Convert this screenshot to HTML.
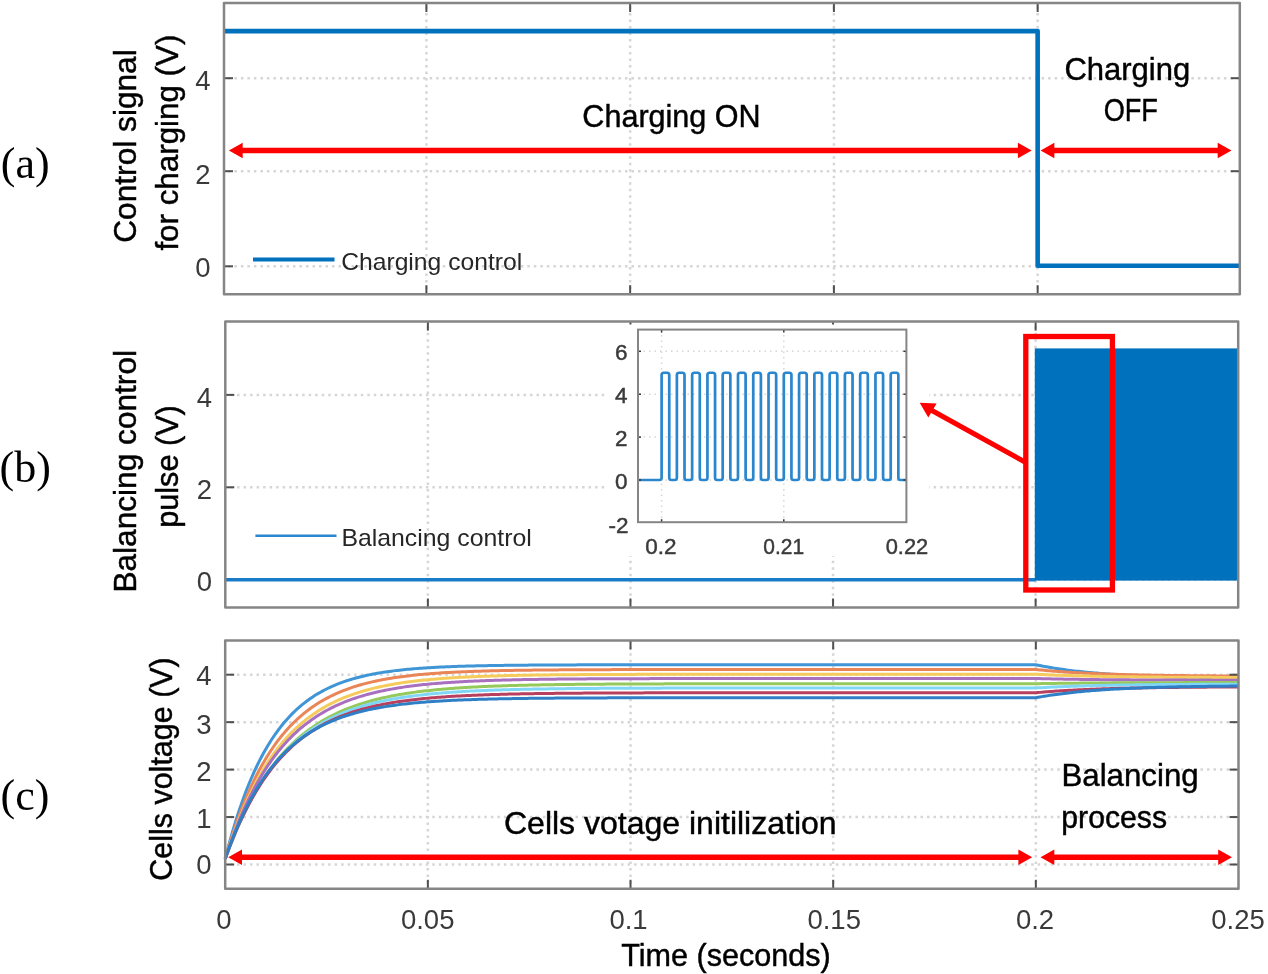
<!DOCTYPE html>
<html><head><meta charset="utf-8"><title>Charging and balancing control</title><style>html,body{margin:0;padding:0;background:#fff;overflow:hidden}svg{display:block}</style></head><body>
<svg width="1268" height="974" viewBox="0 0 1268 974">
<rect width="1268" height="974" fill="#fff"/>
<line x1="225" y1="266.3" x2="1238.8" y2="266.3" stroke="#d6d6d6" stroke-width="2.5" stroke-dasharray="2.5 4.01" stroke-dashoffset="3.65"/>
<line x1="225" y1="171.2" x2="1238.8" y2="171.2" stroke="#d6d6d6" stroke-width="2.5" stroke-dasharray="2.5 4.01" stroke-dashoffset="3.65"/>
<line x1="225" y1="78.2" x2="1238.8" y2="78.2" stroke="#d6d6d6" stroke-width="2.5" stroke-dasharray="2.5 4.01" stroke-dashoffset="3.65"/>
<line x1="426.4" y1="295.45" x2="426.4" y2="4" stroke="#d6d6d6" stroke-width="2.5" stroke-dasharray="2.5 4.01"/>
<line x1="630.15" y1="295.45" x2="630.15" y2="4" stroke="#d6d6d6" stroke-width="2.5" stroke-dasharray="2.5 4.01"/>
<line x1="833.9" y1="295.45" x2="833.9" y2="4" stroke="#d6d6d6" stroke-width="2.5" stroke-dasharray="2.5 4.01"/>
<line x1="1037.65" y1="295.45" x2="1037.65" y2="4" stroke="#d6d6d6" stroke-width="2.5" stroke-dasharray="2.5 4.01"/>
<polyline points="224,31.1 1037.65,31.1 1037.65,265.8 1239.8,265.8" fill="none" stroke="#0072bd" stroke-width="4.6" stroke-linejoin="round"/>
<line x1="224" y1="266.3" x2="233" y2="266.3" stroke="#505050" stroke-width="2"/>
<line x1="224" y1="171.2" x2="233" y2="171.2" stroke="#505050" stroke-width="2"/>
<line x1="1239.8" y1="171.2" x2="1230.8" y2="171.2" stroke="#505050" stroke-width="2"/>
<line x1="224" y1="78.2" x2="233" y2="78.2" stroke="#505050" stroke-width="2"/>
<line x1="1239.8" y1="78.2" x2="1230.8" y2="78.2" stroke="#505050" stroke-width="2"/>
<line x1="426.4" y1="3" x2="426.4" y2="12" stroke="#505050" stroke-width="2"/>
<line x1="426.4" y1="294.2" x2="426.4" y2="285.2" stroke="#505050" stroke-width="2"/>
<line x1="630.15" y1="3" x2="630.15" y2="12" stroke="#505050" stroke-width="2"/>
<line x1="630.15" y1="294.2" x2="630.15" y2="285.2" stroke="#505050" stroke-width="2"/>
<line x1="833.9" y1="3" x2="833.9" y2="12" stroke="#505050" stroke-width="2"/>
<line x1="833.9" y1="294.2" x2="833.9" y2="285.2" stroke="#505050" stroke-width="2"/>
<line x1="1037.65" y1="3" x2="1037.65" y2="12" stroke="#505050" stroke-width="2"/>
<line x1="1037.65" y1="294.2" x2="1037.65" y2="285.2" stroke="#505050" stroke-width="2"/>
<rect x="224" y="3" width="1015.8" height="291.2" fill="none" stroke="#858585" stroke-width="2.5" stroke-linejoin="round"/>
<line x1="253" y1="259.5" x2="334.5" y2="259.5" stroke="#0072bd" stroke-width="4.2"/>
<text x="341.2" y="270.3" font-family="'Liberation Sans', Arial, sans-serif" font-size="24" fill="#262626" text-anchor="start" textLength="181" lengthAdjust="spacingAndGlyphs">Charging control</text>
<text x="671.5" y="127.3" font-family="'Liberation Sans', Arial, sans-serif" font-size="32" fill="#000" text-anchor="middle" textLength="178.3" lengthAdjust="spacingAndGlyphs" stroke="#000" stroke-width="0.45">Charging ON</text>
<text x="1127.3" y="80.3" font-family="'Liberation Sans', Arial, sans-serif" font-size="32" fill="#000" text-anchor="middle" textLength="125.8" lengthAdjust="spacingAndGlyphs" stroke="#000" stroke-width="0.45">Charging</text>
<text x="1130.8" y="121.3" font-family="'Liberation Sans', Arial, sans-serif" font-size="32" fill="#000" text-anchor="middle" textLength="54.3" lengthAdjust="spacingAndGlyphs" stroke="#000" stroke-width="0.45">OFF</text>
<line x1="241.7" y1="150.6" x2="1018.9" y2="150.6" stroke="#ff0000" stroke-width="5.5"/>
<polygon points="228.9,150.6 242.7,142.85 242.7,158.35" fill="#ff0000"/>
<polygon points="1031.7,150.6 1017.9,142.85 1017.9,158.35" fill="#ff0000"/>
<line x1="1053.4" y1="150.6" x2="1218.7" y2="150.6" stroke="#ff0000" stroke-width="5.5"/>
<polygon points="1040.6,150.6 1054.4,142.85 1054.4,158.35" fill="#ff0000"/>
<polygon points="1231.5,150.6 1217.7,142.85 1217.7,158.35" fill="#ff0000"/>
<text x="210.5" y="90.3" font-family="'Liberation Sans', Arial, sans-serif" font-size="27.5" fill="#3a3a3a" text-anchor="end">4</text>
<text x="210.5" y="183.6" font-family="'Liberation Sans', Arial, sans-serif" font-size="27.5" fill="#3a3a3a" text-anchor="end">2</text>
<text x="210.5" y="277.4" font-family="'Liberation Sans', Arial, sans-serif" font-size="27.5" fill="#3a3a3a" text-anchor="end">0</text>
<line x1="226.3" y1="579.7" x2="1237.2" y2="579.7" stroke="#d6d6d6" stroke-width="2.5" stroke-dasharray="2.5 4.01" stroke-dashoffset="2.25"/>
<line x1="226.3" y1="487.3" x2="1237.2" y2="487.3" stroke="#d6d6d6" stroke-width="2.5" stroke-dasharray="2.5 4.01" stroke-dashoffset="2.25"/>
<line x1="226.3" y1="394.9" x2="1237.2" y2="394.9" stroke="#d6d6d6" stroke-width="2.5" stroke-dasharray="2.5 4.01" stroke-dashoffset="2.25"/>
<line x1="427.88" y1="608.75" x2="427.88" y2="322.6" stroke="#d6d6d6" stroke-width="2.5" stroke-dasharray="2.5 4.01"/>
<line x1="630.46" y1="608.75" x2="630.46" y2="322.6" stroke="#d6d6d6" stroke-width="2.5" stroke-dasharray="2.5 4.01"/>
<line x1="833.04" y1="608.75" x2="833.04" y2="322.6" stroke="#d6d6d6" stroke-width="2.5" stroke-dasharray="2.5 4.01"/>
<line x1="1035.62" y1="608.75" x2="1035.62" y2="322.6" stroke="#d6d6d6" stroke-width="2.5" stroke-dasharray="2.5 4.01"/>
<line x1="225.3" y1="579.7" x2="1035.62" y2="579.7" stroke="#1a7cc8" stroke-width="3.6"/>
<rect x="1034.8" y="348.4" width="203.4" height="232.2" fill="#0072bd"/>
<line x1="225.3" y1="487.3" x2="234.3" y2="487.3" stroke="#505050" stroke-width="2"/>
<line x1="225.3" y1="394.9" x2="234.3" y2="394.9" stroke="#505050" stroke-width="2"/>
<line x1="427.88" y1="321.6" x2="427.88" y2="330.6" stroke="#505050" stroke-width="2"/>
<line x1="427.88" y1="607.5" x2="427.88" y2="598.5" stroke="#505050" stroke-width="2"/>
<line x1="630.46" y1="321.6" x2="630.46" y2="330.6" stroke="#505050" stroke-width="2"/>
<line x1="630.46" y1="607.5" x2="630.46" y2="598.5" stroke="#505050" stroke-width="2"/>
<line x1="833.04" y1="321.6" x2="833.04" y2="330.6" stroke="#505050" stroke-width="2"/>
<line x1="833.04" y1="607.5" x2="833.04" y2="598.5" stroke="#505050" stroke-width="2"/>
<line x1="1035.62" y1="321.6" x2="1035.62" y2="330.6" stroke="#505050" stroke-width="2"/>
<line x1="1035.62" y1="607.5" x2="1035.62" y2="598.5" stroke="#505050" stroke-width="2"/>
<rect x="225.3" y="321.6" width="1012.9" height="285.9" fill="none" stroke="#858585" stroke-width="2.5" stroke-linejoin="round"/>
<line x1="255.4" y1="535.8" x2="336.5" y2="535.8" stroke="#2a86cf" stroke-width="2.6"/>
<text x="341.4" y="546.2" font-family="'Liberation Sans', Arial, sans-serif" font-size="24" fill="#262626" text-anchor="start" textLength="190.4" lengthAdjust="spacingAndGlyphs">Balancing control</text>
<text x="212" y="406.5" font-family="'Liberation Sans', Arial, sans-serif" font-size="27.5" fill="#3a3a3a" text-anchor="end">4</text>
<text x="212" y="499" font-family="'Liberation Sans', Arial, sans-serif" font-size="27.5" fill="#3a3a3a" text-anchor="end">2</text>
<text x="212" y="591" font-family="'Liberation Sans', Arial, sans-serif" font-size="27.5" fill="#3a3a3a" text-anchor="end">0</text>
<rect x="606" y="324.5" width="323" height="231.5" fill="#fff"/>
<line x1="638" y1="351.3" x2="906.4" y2="351.3" stroke="#d6d6d6" stroke-width="1.5" stroke-dasharray="1.5 4"/>
<line x1="638" y1="394.2" x2="906.4" y2="394.2" stroke="#d6d6d6" stroke-width="1.5" stroke-dasharray="1.5 4"/>
<line x1="638" y1="437.1" x2="906.4" y2="437.1" stroke="#d6d6d6" stroke-width="1.5" stroke-dasharray="1.5 4"/>
<line x1="638" y1="480" x2="906.4" y2="480" stroke="#d6d6d6" stroke-width="1.5" stroke-dasharray="1.5 4"/>
<line x1="661.6" y1="329.6" x2="661.6" y2="522.2" stroke="#d6d6d6" stroke-width="1.5" stroke-dasharray="1.5 4"/>
<line x1="783.8" y1="329.6" x2="783.8" y2="522.2" stroke="#d6d6d6" stroke-width="1.5" stroke-dasharray="1.5 4"/>
<path d="M638,480 L659.4,480 Q661.6,480 661.6,477.8 L661.6,374.95 Q661.6,372.75 663.8,372.75 L667.04,372.75 Q669.24,372.75 669.24,374.95 L669.24,477.8 Q669.24,480 671.44,480 L674.67,480 Q676.88,480 676.88,477.8 L676.88,477.8 L676.88,374.95 Q676.88,372.75 679.08,372.75 L682.31,372.75 Q684.51,372.75 684.51,374.95 L684.51,477.8 Q684.51,480 686.71,480 L689.95,480 Q692.15,480 692.15,477.8 L692.15,477.8 L692.15,374.95 Q692.15,372.75 694.35,372.75 L697.59,372.75 Q699.79,372.75 699.79,374.95 L699.79,477.8 Q699.79,480 701.99,480 L705.23,480 Q707.43,480 707.43,477.8 L707.43,477.8 L707.43,374.95 Q707.43,372.75 709.63,372.75 L712.86,372.75 Q715.06,372.75 715.06,374.95 L715.06,477.8 Q715.06,480 717.26,480 L720.5,480 Q722.7,480 722.7,477.8 L722.7,477.8 L722.7,374.95 Q722.7,372.75 724.9,372.75 L728.14,372.75 Q730.34,372.75 730.34,374.95 L730.34,477.8 Q730.34,480 732.54,480 L735.78,480 Q737.98,480 737.98,477.8 L737.98,477.8 L737.98,374.95 Q737.98,372.75 740.18,372.75 L743.41,372.75 Q745.61,372.75 745.61,374.95 L745.61,477.8 Q745.61,480 747.81,480 L751.05,480 Q753.25,480 753.25,477.8 L753.25,477.8 L753.25,374.95 Q753.25,372.75 755.45,372.75 L758.69,372.75 Q760.89,372.75 760.89,374.95 L760.89,477.8 Q760.89,480 763.09,480 L766.33,480 Q768.53,480 768.53,477.8 L768.53,477.8 L768.53,374.95 Q768.53,372.75 770.73,372.75 L773.96,372.75 Q776.16,372.75 776.16,374.95 L776.16,477.8 Q776.16,480 778.36,480 L781.6,480 Q783.8,480 783.8,477.8 L783.8,477.8 L783.8,374.95 Q783.8,372.75 786,372.75 L789.24,372.75 Q791.44,372.75 791.44,374.95 L791.44,477.8 Q791.44,480 793.64,480 L796.88,480 Q799.08,480 799.08,477.8 L799.08,477.8 L799.08,374.95 Q799.08,372.75 801.28,372.75 L804.51,372.75 Q806.71,372.75 806.71,374.95 L806.71,477.8 Q806.71,480 808.91,480 L812.15,480 Q814.35,480 814.35,477.8 L814.35,477.8 L814.35,374.95 Q814.35,372.75 816.55,372.75 L819.79,372.75 Q821.99,372.75 821.99,374.95 L821.99,477.8 Q821.99,480 824.19,480 L827.43,480 Q829.63,480 829.63,477.8 L829.63,477.8 L829.63,374.95 Q829.63,372.75 831.83,372.75 L835.06,372.75 Q837.26,372.75 837.26,374.95 L837.26,477.8 Q837.26,480 839.46,480 L842.7,480 Q844.9,480 844.9,477.8 L844.9,477.8 L844.9,374.95 Q844.9,372.75 847.1,372.75 L850.34,372.75 Q852.54,372.75 852.54,374.95 L852.54,477.8 Q852.54,480 854.74,480 L857.97,480 Q860.17,480 860.17,477.8 L860.17,477.8 L860.17,374.95 Q860.17,372.75 862.37,372.75 L865.61,372.75 Q867.81,372.75 867.81,374.95 L867.81,477.8 Q867.81,480 870.01,480 L873.25,480 Q875.45,480 875.45,477.8 L875.45,477.8 L875.45,374.95 Q875.45,372.75 877.65,372.75 L880.89,372.75 Q883.09,372.75 883.09,374.95 L883.09,477.8 Q883.09,480 885.29,480 L888.52,480 Q890.72,480 890.72,477.8 L890.72,477.8 L890.72,374.95 Q890.72,372.75 892.92,372.75 L896.16,372.75 Q898.36,372.75 898.36,374.95 L898.36,477.8 Q898.36,480 900.56,480 L906.4,480" fill="none" stroke="#2a86cd" stroke-width="2.7" stroke-linejoin="round"/>
<line x1="638" y1="351.3" x2="641" y2="351.3" stroke="#333" stroke-width="1.5"/>
<line x1="906.4" y1="351.3" x2="903.4" y2="351.3" stroke="#333" stroke-width="1.5"/>
<line x1="638" y1="394.2" x2="641" y2="394.2" stroke="#333" stroke-width="1.5"/>
<line x1="906.4" y1="394.2" x2="903.4" y2="394.2" stroke="#333" stroke-width="1.5"/>
<line x1="638" y1="437.1" x2="641" y2="437.1" stroke="#333" stroke-width="1.5"/>
<line x1="906.4" y1="437.1" x2="903.4" y2="437.1" stroke="#333" stroke-width="1.5"/>
<line x1="638" y1="480" x2="641" y2="480" stroke="#333" stroke-width="1.5"/>
<line x1="906.4" y1="480" x2="903.4" y2="480" stroke="#333" stroke-width="1.5"/>
<line x1="661.6" y1="329.6" x2="661.6" y2="332.6" stroke="#333" stroke-width="1.5"/>
<line x1="661.6" y1="522.2" x2="661.6" y2="519.2" stroke="#333" stroke-width="1.5"/>
<line x1="783.8" y1="329.6" x2="783.8" y2="332.6" stroke="#333" stroke-width="1.5"/>
<line x1="783.8" y1="522.2" x2="783.8" y2="519.2" stroke="#333" stroke-width="1.5"/>
<rect x="638" y="329.6" width="268.4" height="192.6" fill="none" stroke="#858585" stroke-width="2"/>
<text x="627.5" y="359.5" font-family="'Liberation Sans', Arial, sans-serif" font-size="22.5" fill="#3a3a3a" text-anchor="end" stroke="#3a3a3a" stroke-width="0.45">6</text>
<text x="627.5" y="402.6" font-family="'Liberation Sans', Arial, sans-serif" font-size="22.5" fill="#3a3a3a" text-anchor="end" stroke="#3a3a3a" stroke-width="0.45">4</text>
<text x="627.5" y="445.8" font-family="'Liberation Sans', Arial, sans-serif" font-size="22.5" fill="#3a3a3a" text-anchor="end" stroke="#3a3a3a" stroke-width="0.45">2</text>
<text x="627.5" y="489" font-family="'Liberation Sans', Arial, sans-serif" font-size="22.5" fill="#3a3a3a" text-anchor="end" stroke="#3a3a3a" stroke-width="0.45">0</text>
<text x="628.5" y="532.7" font-family="'Liberation Sans', Arial, sans-serif" font-size="22.5" fill="#3a3a3a" text-anchor="end" stroke="#3a3a3a" stroke-width="0.45">-2</text>
<text x="660.8" y="554.2" font-family="'Liberation Sans', Arial, sans-serif" font-size="22.5" fill="#3a3a3a" text-anchor="middle" stroke="#3a3a3a" stroke-width="0.45">0.2</text>
<text x="783.7" y="554.2" font-family="'Liberation Sans', Arial, sans-serif" font-size="22.5" fill="#3a3a3a" text-anchor="middle" textLength="40.8" lengthAdjust="spacingAndGlyphs" stroke="#3a3a3a" stroke-width="0.45">0.21</text>
<text x="907" y="554.2" font-family="'Liberation Sans', Arial, sans-serif" font-size="22.5" fill="#3a3a3a" text-anchor="middle" textLength="42.6" lengthAdjust="spacingAndGlyphs" stroke="#3a3a3a" stroke-width="0.45">0.22</text>
<rect x="1025.8" y="336.5" width="86.6" height="253.5" fill="none" stroke="#ff0000" stroke-width="5.3"/>
<line x1="1025" y1="462" x2="931" y2="410" stroke="#ff0000" stroke-width="5"/>
<polygon points="919.7,402.8 936.6,403.6 928.3,417.6" fill="#ff0000"/>
<line x1="226.2" y1="864.5" x2="1237.5" y2="864.5" stroke="#d6d6d6" stroke-width="2.5" stroke-dasharray="2.5 4.01" stroke-dashoffset="2.25"/>
<line x1="226.2" y1="817.05" x2="1237.5" y2="817.05" stroke="#d6d6d6" stroke-width="2.5" stroke-dasharray="2.5 4.01" stroke-dashoffset="2.25"/>
<line x1="226.2" y1="769.6" x2="1237.5" y2="769.6" stroke="#d6d6d6" stroke-width="2.5" stroke-dasharray="2.5 4.01" stroke-dashoffset="2.25"/>
<line x1="226.2" y1="722.15" x2="1237.5" y2="722.15" stroke="#d6d6d6" stroke-width="2.5" stroke-dasharray="2.5 4.01" stroke-dashoffset="2.25"/>
<line x1="226.2" y1="674.7" x2="1237.5" y2="674.7" stroke="#d6d6d6" stroke-width="2.5" stroke-dasharray="2.5 4.01" stroke-dashoffset="2.25"/>
<line x1="427.86" y1="890.05" x2="427.86" y2="641.5" stroke="#d6d6d6" stroke-width="2.5" stroke-dasharray="2.5 4.01"/>
<line x1="630.52" y1="890.05" x2="630.52" y2="641.5" stroke="#d6d6d6" stroke-width="2.5" stroke-dasharray="2.5 4.01"/>
<line x1="833.18" y1="890.05" x2="833.18" y2="641.5" stroke="#d6d6d6" stroke-width="2.5" stroke-dasharray="2.5 4.01"/>
<line x1="1035.84" y1="890.05" x2="1035.84" y2="641.5" stroke="#d6d6d6" stroke-width="2.5" stroke-dasharray="2.5 4.01"/>
<polyline points="225.2,858.81 227.23,850.9 229.25,843.31 231.28,836.04 233.31,829.06 235.33,822.36 237.36,815.94 239.39,809.78 241.41,803.87 243.44,798.2 245.47,792.76 247.49,787.54 249.52,782.54 251.55,777.74 253.57,773.13 255.6,768.72 257.63,764.48 259.65,760.41 261.68,756.52 263.71,752.78 265.73,749.19 267.76,745.75 269.79,742.45 271.81,739.28 273.84,736.24 275.87,733.33 277.89,730.53 279.92,727.85 281.94,725.28 283.97,722.81 286,720.45 288.02,718.18 290.05,716 292.08,713.91 294.1,711.91 296.13,709.98 298.16,708.14 300.18,706.37 302.21,704.68 304.24,703.05 306.26,701.49 308.29,699.99 310.32,698.55 312.34,697.17 314.37,695.85 316.4,694.58 318.42,693.37 320.45,692.2 322.48,691.08 324.5,690.01 326.53,688.98 328.56,687.99 330.58,687.04 332.61,686.13 334.64,685.26 336.66,684.43 338.69,683.62 340.72,682.85 342.74,682.12 344.77,681.41 346.8,680.73 348.82,680.08 350.85,679.45 352.88,678.85 354.9,678.28 356.93,677.72 358.96,677.2 360.98,676.69 363.01,676.2 365.04,675.73 367.06,675.29 369.09,674.86 371.12,674.44 373.14,674.05 375.17,673.67 377.19,673.3 379.22,672.96 381.25,672.62 383.27,672.3 385.3,671.99 387.33,671.7 389.35,671.41 391.38,671.14 393.41,670.88 395.43,670.63 397.46,670.39 399.49,670.16 401.51,669.94 403.54,669.72 405.57,669.52 407.59,669.33 409.62,669.14 411.65,668.96 413.67,668.79 415.7,668.62 417.73,668.46 419.75,668.31 421.78,668.17 423.81,668.03 425.83,667.89 427.86,667.76 429.89,667.64 431.91,667.52 433.94,667.41 435.97,667.3 437.99,667.2 440.02,667.1 442.05,667 444.07,666.91 446.1,666.82 448.13,666.73 450.15,666.65 452.18,666.57 454.21,666.5 456.23,666.43 458.26,666.36 460.29,666.29 462.31,666.23 464.34,666.17 466.37,666.11 468.39,666.05 470.42,666 472.45,665.95 474.47,665.9 476.5,665.85 478.52,665.81 480.55,665.76 482.58,665.72 484.6,665.68 486.63,665.64 488.66,665.6 490.68,665.57 492.71,665.54 494.74,665.5 496.76,665.47 498.79,665.44 500.82,665.41 502.84,665.39 504.87,665.36 506.9,665.33 508.92,665.31 510.95,665.29 512.98,665.26 515,665.24 517.03,665.22 519.06,665.2 521.08,665.18 523.11,665.16 525.14,665.15 527.16,665.13 529.19,665.11 531.22,665.1 533.24,665.08 535.27,665.07 537.3,665.06 539.32,665.04 541.35,665.03 543.38,665.02 545.4,665.01 547.43,665 549.46,664.99 551.48,664.97 553.51,664.97 555.54,664.96 557.56,664.95 559.59,664.94 561.62,664.93 563.64,664.92 565.67,664.91 567.7,664.91 569.72,664.9 571.75,664.89 573.78,664.89 575.8,664.88 577.83,664.87 579.86,664.87 581.88,664.86 583.91,664.86 585.93,664.85 587.96,664.85 589.99,664.84 592.01,664.84 594.04,664.84 596.07,664.83 598.09,664.83 600.12,664.82 602.15,664.82 604.17,664.82 606.2,664.81 608.23,664.81 610.25,664.81 612.28,664.8 614.31,664.8 616.33,664.8 618.36,664.8 620.39,664.79 622.41,664.79 624.44,664.79 626.47,664.79 628.49,664.78 630.52,664.78 632.55,664.78 634.57,664.78 636.6,664.78 638.63,664.78 640.65,664.77 642.68,664.77 644.71,664.77 646.73,664.77 648.76,664.77 650.79,664.77 652.81,664.77 654.84,664.76 656.87,664.76 658.89,664.76 660.92,664.76 662.95,664.76 664.97,664.76 667,664.76 669.03,664.76 671.05,664.76 673.08,664.76 675.11,664.75 677.13,664.75 679.16,664.75 681.18,664.75 683.21,664.75 685.24,664.75 687.26,664.75 689.29,664.75 691.32,664.75 693.34,664.75 695.37,664.75 697.4,664.75 699.42,664.75 701.45,664.75 703.48,664.75 705.5,664.75 707.53,664.75 709.56,664.74 711.58,664.74 713.61,664.74 715.64,664.74 717.66,664.74 719.69,664.74 721.72,664.74 723.74,664.74 725.77,664.74 727.8,664.74 729.82,664.74 731.85,664.74 733.88,664.74 735.9,664.74 737.93,664.74 739.96,664.74 741.98,664.74 744.01,664.74 746.04,664.74 748.06,664.74 750.09,664.74 752.12,664.74 754.14,664.74 756.17,664.74 758.2,664.74 760.22,664.74 762.25,664.74 764.28,664.74 766.3,664.74 768.33,664.74 770.36,664.74 772.38,664.74 774.41,664.74 776.44,664.74 778.46,664.74 780.49,664.74 782.52,664.74 784.54,664.74 786.57,664.74 788.59,664.74 790.62,664.74 792.65,664.74 794.67,664.74 796.7,664.74 798.73,664.74 800.75,664.74 802.78,664.74 804.81,664.74 806.83,664.74 808.86,664.74 810.89,664.74 812.91,664.74 814.94,664.74 816.97,664.74 818.99,664.74 821.02,664.74 823.05,664.74 825.07,664.74 827.1,664.74 829.13,664.74 831.15,664.74 833.18,664.74 835.21,664.74 837.23,664.74 839.26,664.74 841.29,664.74 843.31,664.74 845.34,664.74 847.37,664.74 849.39,664.74 851.42,664.74 853.45,664.74 855.47,664.74 857.5,664.74 859.53,664.74 861.55,664.74 863.58,664.74 865.61,664.74 867.63,664.74 869.66,664.74 871.69,664.74 873.71,664.74 875.74,664.74 877.77,664.74 879.79,664.74 881.82,664.74 883.85,664.74 885.87,664.74 887.9,664.74 889.92,664.74 891.95,664.74 893.98,664.74 896,664.74 898.03,664.74 900.06,664.74 902.08,664.74 904.11,664.74 906.14,664.74 908.16,664.74 910.19,664.74 912.22,664.74 914.24,664.74 916.27,664.74 918.3,664.74 920.32,664.74 922.35,664.74 924.38,664.74 926.4,664.74 928.43,664.74 930.46,664.74 932.48,664.74 934.51,664.74 936.54,664.74 938.56,664.74 940.59,664.74 942.62,664.74 944.64,664.74 946.67,664.74 948.7,664.74 950.72,664.74 952.75,664.74 954.78,664.74 956.8,664.74 958.83,664.74 960.86,664.74 962.88,664.74 964.91,664.74 966.94,664.74 968.96,664.74 970.99,664.74 973.02,664.74 975.04,664.74 977.07,664.74 979.1,664.74 981.12,664.74 983.15,664.74 985.17,664.74 987.2,664.74 989.23,664.74 991.25,664.74 993.28,664.74 995.31,664.74 997.33,664.74 999.36,664.74 1001.39,664.74 1003.41,664.74 1005.44,664.74 1007.47,664.74 1009.49,664.74 1011.52,664.74 1013.55,664.74 1015.57,664.74 1017.6,664.74 1019.63,664.74 1021.65,664.74 1023.68,664.74 1025.71,664.74 1027.73,664.74 1029.76,664.74 1031.79,664.74 1033.81,664.74 1035.84,664.74 1037.87,665.16 1039.89,665.57 1041.92,665.97 1043.95,666.35 1045.97,666.73 1048,667.09 1050.03,667.44 1052.05,667.78 1054.08,668.11 1056.11,668.43 1058.13,668.74 1060.16,669.04 1062.19,669.33 1064.21,669.61 1066.24,669.89 1068.27,670.15 1070.29,670.41 1072.32,670.66 1074.35,670.9 1076.37,671.13 1078.4,671.36 1080.43,671.58 1082.45,671.79 1084.48,672 1086.5,672.2 1088.53,672.39 1090.56,672.58 1092.58,672.76 1094.61,672.94 1096.64,673.11 1098.66,673.28 1100.69,673.44 1102.72,673.59 1104.74,673.74 1106.77,673.89 1108.8,674.03 1110.82,674.17 1112.85,674.3 1114.88,674.43 1116.9,674.56 1118.93,674.68 1120.96,674.8 1122.98,674.91 1125.01,675.02 1127.04,675.13 1129.06,675.23 1131.09,675.33 1133.12,675.43 1135.14,675.52 1137.17,675.61 1139.2,675.7 1141.22,675.79 1143.25,675.87 1145.28,675.95 1147.3,676.03 1149.33,676.11 1151.36,676.18 1153.38,676.25 1155.41,676.32 1157.44,676.39 1159.46,676.45 1161.49,676.52 1163.52,676.58 1165.54,676.64 1167.57,676.69 1169.6,676.75 1171.62,676.8 1173.65,676.86 1175.68,676.91 1177.7,676.96 1179.73,677 1181.76,677.05 1183.78,677.09 1185.81,677.14 1187.83,677.18 1189.86,677.22 1191.89,677.26 1193.91,677.3 1195.94,677.33 1197.97,677.37 1199.99,677.4 1202.02,677.44 1204.05,677.47 1206.07,677.5 1208.1,677.53 1210.13,677.56 1212.15,677.59 1214.18,677.62 1216.21,677.65 1218.23,677.67 1220.26,677.7 1222.29,677.72 1224.31,677.75 1226.34,677.77 1228.37,677.79 1230.39,677.81 1232.42,677.84 1234.45,677.86 1236.47,677.88 1238.5,677.9" fill="none" stroke="#3f95d6" stroke-width="3" stroke-linejoin="round"/>
<polyline points="225.2,858.81 227.23,851.82 229.25,845.09 231.28,838.61 233.31,832.37 235.33,826.36 237.36,820.57 239.39,814.99 241.41,809.62 243.44,804.45 245.47,799.47 247.49,794.67 249.52,790.05 251.55,785.6 253.57,781.32 255.6,777.19 257.63,773.21 259.65,769.39 261.68,765.7 263.71,762.15 265.73,758.73 267.76,755.43 269.79,752.26 271.81,749.21 273.84,746.26 275.87,743.43 277.89,740.7 279.92,738.07 281.94,735.54 283.97,733.1 286,730.76 288.02,728.49 290.05,726.32 292.08,724.22 294.1,722.2 296.13,720.25 298.16,718.38 300.18,716.57 302.21,714.84 304.24,713.16 306.26,711.55 308.29,710 310.32,708.5 312.34,707.06 314.37,705.68 316.4,704.34 318.42,703.05 320.45,701.81 322.48,700.62 324.5,699.47 326.53,698.37 328.56,697.3 330.58,696.27 332.61,695.28 334.64,694.33 336.66,693.41 338.69,692.53 340.72,691.68 342.74,690.86 344.77,690.07 346.8,689.31 348.82,688.58 350.85,687.88 352.88,687.2 354.9,686.54 356.93,685.91 358.96,685.31 360.98,684.72 363.01,684.16 365.04,683.62 367.06,683.1 369.09,682.59 371.12,682.11 373.14,681.64 375.17,681.2 377.19,680.76 379.22,680.35 381.25,679.95 383.27,679.56 385.3,679.19 387.33,678.83 389.35,678.48 391.38,678.15 393.41,677.83 395.43,677.52 397.46,677.23 399.49,676.94 401.51,676.67 403.54,676.4 405.57,676.14 407.59,675.9 409.62,675.66 411.65,675.43 413.67,675.21 415.7,675 417.73,674.8 419.75,674.6 421.78,674.41 423.81,674.23 425.83,674.06 427.86,673.89 429.89,673.72 431.91,673.57 433.94,673.42 435.97,673.27 437.99,673.13 440.02,673 442.05,672.87 444.07,672.74 446.1,672.62 448.13,672.51 450.15,672.39 452.18,672.29 454.21,672.18 456.23,672.08 458.26,671.99 460.29,671.9 462.31,671.81 464.34,671.72 466.37,671.64 468.39,671.56 470.42,671.48 472.45,671.41 474.47,671.34 476.5,671.27 478.52,671.2 480.55,671.14 482.58,671.08 484.6,671.02 486.63,670.96 488.66,670.91 490.68,670.85 492.71,670.8 494.74,670.75 496.76,670.71 498.79,670.66 500.82,670.62 502.84,670.58 504.87,670.54 506.9,670.5 508.92,670.46 510.95,670.42 512.98,670.39 515,670.36 517.03,670.32 519.06,670.29 521.08,670.26 523.11,670.23 525.14,670.21 527.16,670.18 529.19,670.15 531.22,670.13 533.24,670.1 535.27,670.08 537.3,670.06 539.32,670.04 541.35,670.02 543.38,670 545.4,669.98 547.43,669.96 549.46,669.94 551.48,669.93 553.51,669.91 555.54,669.89 557.56,669.88 559.59,669.86 561.62,669.85 563.64,669.84 565.67,669.82 567.7,669.81 569.72,669.8 571.75,669.79 573.78,669.77 575.8,669.76 577.83,669.75 579.86,669.74 581.88,669.73 583.91,669.72 585.93,669.72 587.96,669.71 589.99,669.7 592.01,669.69 594.04,669.68 596.07,669.67 598.09,669.67 600.12,669.66 602.15,669.65 604.17,669.65 606.2,669.64 608.23,669.64 610.25,669.63 612.28,669.62 614.31,669.62 616.33,669.61 618.36,669.61 620.39,669.6 622.41,669.6 624.44,669.6 626.47,669.59 628.49,669.59 630.52,669.58 632.55,669.58 634.57,669.58 636.6,669.57 638.63,669.57 640.65,669.57 642.68,669.56 644.71,669.56 646.73,669.56 648.76,669.55 650.79,669.55 652.81,669.55 654.84,669.55 656.87,669.54 658.89,669.54 660.92,669.54 662.95,669.54 664.97,669.53 667,669.53 669.03,669.53 671.05,669.53 673.08,669.53 675.11,669.53 677.13,669.52 679.16,669.52 681.18,669.52 683.21,669.52 685.24,669.52 687.26,669.52 689.29,669.51 691.32,669.51 693.34,669.51 695.37,669.51 697.4,669.51 699.42,669.51 701.45,669.51 703.48,669.51 705.5,669.51 707.53,669.51 709.56,669.5 711.58,669.5 713.61,669.5 715.64,669.5 717.66,669.5 719.69,669.5 721.72,669.5 723.74,669.5 725.77,669.5 727.8,669.5 729.82,669.5 731.85,669.5 733.88,669.5 735.9,669.5 737.93,669.49 739.96,669.49 741.98,669.49 744.01,669.49 746.04,669.49 748.06,669.49 750.09,669.49 752.12,669.49 754.14,669.49 756.17,669.49 758.2,669.49 760.22,669.49 762.25,669.49 764.28,669.49 766.3,669.49 768.33,669.49 770.36,669.49 772.38,669.49 774.41,669.49 776.44,669.49 778.46,669.49 780.49,669.49 782.52,669.49 784.54,669.49 786.57,669.49 788.59,669.49 790.62,669.49 792.65,669.49 794.67,669.49 796.7,669.49 798.73,669.49 800.75,669.48 802.78,669.48 804.81,669.48 806.83,669.48 808.86,669.48 810.89,669.48 812.91,669.48 814.94,669.48 816.97,669.48 818.99,669.48 821.02,669.48 823.05,669.48 825.07,669.48 827.1,669.48 829.13,669.48 831.15,669.48 833.18,669.48 835.21,669.48 837.23,669.48 839.26,669.48 841.29,669.48 843.31,669.48 845.34,669.48 847.37,669.48 849.39,669.48 851.42,669.48 853.45,669.48 855.47,669.48 857.5,669.48 859.53,669.48 861.55,669.48 863.58,669.48 865.61,669.48 867.63,669.48 869.66,669.48 871.69,669.48 873.71,669.48 875.74,669.48 877.77,669.48 879.79,669.48 881.82,669.48 883.85,669.48 885.87,669.48 887.9,669.48 889.92,669.48 891.95,669.48 893.98,669.48 896,669.48 898.03,669.48 900.06,669.48 902.08,669.48 904.11,669.48 906.14,669.48 908.16,669.48 910.19,669.48 912.22,669.48 914.24,669.48 916.27,669.48 918.3,669.48 920.32,669.48 922.35,669.48 924.38,669.48 926.4,669.48 928.43,669.48 930.46,669.48 932.48,669.48 934.51,669.48 936.54,669.48 938.56,669.48 940.59,669.48 942.62,669.48 944.64,669.48 946.67,669.48 948.7,669.48 950.72,669.48 952.75,669.48 954.78,669.48 956.8,669.48 958.83,669.48 960.86,669.48 962.88,669.48 964.91,669.48 966.94,669.48 968.96,669.48 970.99,669.48 973.02,669.48 975.04,669.48 977.07,669.48 979.1,669.48 981.12,669.48 983.15,669.48 985.17,669.48 987.2,669.48 989.23,669.48 991.25,669.48 993.28,669.48 995.31,669.48 997.33,669.48 999.36,669.48 1001.39,669.48 1003.41,669.48 1005.44,669.48 1007.47,669.48 1009.49,669.48 1011.52,669.48 1013.55,669.48 1015.57,669.48 1017.6,669.48 1019.63,669.48 1021.65,669.48 1023.68,669.48 1025.71,669.48 1027.73,669.48 1029.76,669.48 1031.79,669.48 1033.81,669.48 1035.84,669.48 1037.87,669.69 1039.89,669.89 1041.92,670.09 1043.95,670.28 1045.97,670.47 1048,670.65 1050.03,670.82 1052.05,670.99 1054.08,671.15 1056.11,671.31 1058.13,671.46 1060.16,671.61 1062.19,671.76 1064.21,671.9 1066.24,672.03 1068.27,672.16 1070.29,672.29 1072.32,672.41 1074.35,672.53 1076.37,672.65 1078.4,672.76 1080.43,672.87 1082.45,672.98 1084.48,673.08 1086.5,673.18 1088.53,673.27 1090.56,673.37 1092.58,673.46 1094.61,673.54 1096.64,673.63 1098.66,673.71 1100.69,673.79 1102.72,673.87 1104.74,673.94 1106.77,674.02 1108.8,674.09 1110.82,674.15 1112.85,674.22 1114.88,674.28 1116.9,674.35 1118.93,674.41 1120.96,674.46 1122.98,674.52 1125.01,674.58 1127.04,674.63 1129.06,674.68 1131.09,674.73 1133.12,674.78 1135.14,674.83 1137.17,674.87 1139.2,674.91 1141.22,674.96 1143.25,675 1145.28,675.04 1147.3,675.08 1149.33,675.11 1151.36,675.15 1153.38,675.19 1155.41,675.22 1157.44,675.25 1159.46,675.29 1161.49,675.32 1163.52,675.35 1165.54,675.38 1167.57,675.41 1169.6,675.43 1171.62,675.46 1173.65,675.49 1175.68,675.51 1177.7,675.53 1179.73,675.56 1181.76,675.58 1183.78,675.6 1185.81,675.62 1187.83,675.65 1189.86,675.67 1191.89,675.69 1193.91,675.7 1195.94,675.72 1197.97,675.74 1199.99,675.76 1202.02,675.77 1204.05,675.79 1206.07,675.81 1208.1,675.82 1210.13,675.84 1212.15,675.85 1214.18,675.86 1216.21,675.88 1218.23,675.89 1220.26,675.9 1222.29,675.92 1224.31,675.93 1226.34,675.94 1228.37,675.95 1230.39,675.96 1232.42,675.97 1234.45,675.98 1236.47,675.99 1238.5,676" fill="none" stroke="#ea8558" stroke-width="3" stroke-linejoin="round"/>
<polyline points="225.2,858.81 227.23,852.43 229.25,846.27 231.28,840.33 233.31,834.59 235.33,829.05 237.36,823.7 239.39,818.53 241.41,813.55 243.44,808.73 245.47,804.09 247.49,799.6 249.52,795.27 251.55,791.08 253.57,787.05 255.6,783.15 257.63,779.39 259.65,775.75 261.68,772.24 263.71,768.86 265.73,765.59 267.76,762.43 269.79,759.38 271.81,756.44 273.84,753.6 275.87,750.86 277.89,748.21 279.92,745.65 281.94,743.19 283.97,740.8 286,738.5 288.02,736.28 290.05,734.14 292.08,732.07 294.1,730.07 296.13,728.14 298.16,726.28 300.18,724.48 302.21,722.74 304.24,721.07 306.26,719.45 308.29,717.88 310.32,716.38 312.34,714.92 314.37,713.51 316.4,712.16 318.42,710.85 320.45,709.58 322.48,708.36 324.5,707.18 326.53,706.04 328.56,704.94 330.58,703.88 332.61,702.86 334.64,701.87 336.66,700.91 338.69,699.99 340.72,699.1 342.74,698.24 344.77,697.41 346.8,696.61 348.82,695.84 350.85,695.09 352.88,694.37 354.9,693.67 356.93,693 358.96,692.35 360.98,691.72 363.01,691.12 365.04,690.54 367.06,689.97 369.09,689.43 371.12,688.9 373.14,688.4 375.17,687.91 377.19,687.43 379.22,686.98 381.25,686.54 383.27,686.11 385.3,685.7 387.33,685.3 389.35,684.92 391.38,684.55 393.41,684.2 395.43,683.85 397.46,683.52 399.49,683.2 401.51,682.89 403.54,682.59 405.57,682.3 407.59,682.02 409.62,681.75 411.65,681.49 413.67,681.24 415.7,681 417.73,680.76 419.75,680.54 421.78,680.32 423.81,680.11 425.83,679.91 427.86,679.71 429.89,679.52 431.91,679.34 433.94,679.16 435.97,678.99 437.99,678.83 440.02,678.67 442.05,678.51 444.07,678.36 446.1,678.22 448.13,678.08 450.15,677.95 452.18,677.82 454.21,677.7 456.23,677.58 458.26,677.46 460.29,677.35 462.31,677.24 464.34,677.14 466.37,677.04 468.39,676.94 470.42,676.85 472.45,676.76 474.47,676.67 476.5,676.58 478.52,676.5 480.55,676.42 482.58,676.35 484.6,676.27 486.63,676.2 488.66,676.14 490.68,676.07 492.71,676.01 494.74,675.94 496.76,675.88 498.79,675.83 500.82,675.77 502.84,675.72 504.87,675.67 506.9,675.62 508.92,675.57 510.95,675.52 512.98,675.48 515,675.43 517.03,675.39 519.06,675.35 521.08,675.31 523.11,675.28 525.14,675.24 527.16,675.2 529.19,675.17 531.22,675.14 533.24,675.11 535.27,675.08 537.3,675.05 539.32,675.02 541.35,674.99 543.38,674.96 545.4,674.94 547.43,674.91 549.46,674.89 551.48,674.87 553.51,674.85 555.54,674.82 557.56,674.8 559.59,674.78 561.62,674.76 563.64,674.75 565.67,674.73 567.7,674.71 569.72,674.69 571.75,674.68 573.78,674.66 575.8,674.65 577.83,674.63 579.86,674.62 581.88,674.6 583.91,674.59 585.93,674.58 587.96,674.57 589.99,674.55 592.01,674.54 594.04,674.53 596.07,674.52 598.09,674.51 600.12,674.5 602.15,674.49 604.17,674.48 606.2,674.47 608.23,674.47 610.25,674.46 612.28,674.45 614.31,674.44 616.33,674.43 618.36,674.43 620.39,674.42 622.41,674.41 624.44,674.41 626.47,674.4 628.49,674.39 630.52,674.39 632.55,674.38 634.57,674.38 636.6,674.37 638.63,674.37 640.65,674.36 642.68,674.36 644.71,674.35 646.73,674.35 648.76,674.34 650.79,674.34 652.81,674.34 654.84,674.33 656.87,674.33 658.89,674.33 660.92,674.32 662.95,674.32 664.97,674.32 667,674.31 669.03,674.31 671.05,674.31 673.08,674.3 675.11,674.3 677.13,674.3 679.16,674.3 681.18,674.29 683.21,674.29 685.24,674.29 687.26,674.29 689.29,674.28 691.32,674.28 693.34,674.28 695.37,674.28 697.4,674.28 699.42,674.27 701.45,674.27 703.48,674.27 705.5,674.27 707.53,674.27 709.56,674.27 711.58,674.27 713.61,674.26 715.64,674.26 717.66,674.26 719.69,674.26 721.72,674.26 723.74,674.26 725.77,674.26 727.8,674.26 729.82,674.25 731.85,674.25 733.88,674.25 735.9,674.25 737.93,674.25 739.96,674.25 741.98,674.25 744.01,674.25 746.04,674.25 748.06,674.25 750.09,674.25 752.12,674.25 754.14,674.24 756.17,674.24 758.2,674.24 760.22,674.24 762.25,674.24 764.28,674.24 766.3,674.24 768.33,674.24 770.36,674.24 772.38,674.24 774.41,674.24 776.44,674.24 778.46,674.24 780.49,674.24 782.52,674.24 784.54,674.24 786.57,674.24 788.59,674.24 790.62,674.24 792.65,674.24 794.67,674.23 796.7,674.23 798.73,674.23 800.75,674.23 802.78,674.23 804.81,674.23 806.83,674.23 808.86,674.23 810.89,674.23 812.91,674.23 814.94,674.23 816.97,674.23 818.99,674.23 821.02,674.23 823.05,674.23 825.07,674.23 827.1,674.23 829.13,674.23 831.15,674.23 833.18,674.23 835.21,674.23 837.23,674.23 839.26,674.23 841.29,674.23 843.31,674.23 845.34,674.23 847.37,674.23 849.39,674.23 851.42,674.23 853.45,674.23 855.47,674.23 857.5,674.23 859.53,674.23 861.55,674.23 863.58,674.23 865.61,674.23 867.63,674.23 869.66,674.23 871.69,674.23 873.71,674.23 875.74,674.23 877.77,674.23 879.79,674.23 881.82,674.23 883.85,674.23 885.87,674.23 887.9,674.23 889.92,674.23 891.95,674.23 893.98,674.23 896,674.23 898.03,674.23 900.06,674.23 902.08,674.23 904.11,674.23 906.14,674.23 908.16,674.23 910.19,674.23 912.22,674.23 914.24,674.23 916.27,674.23 918.3,674.23 920.32,674.23 922.35,674.23 924.38,674.23 926.4,674.23 928.43,674.23 930.46,674.23 932.48,674.23 934.51,674.23 936.54,674.23 938.56,674.23 940.59,674.23 942.62,674.23 944.64,674.23 946.67,674.23 948.7,674.23 950.72,674.23 952.75,674.23 954.78,674.23 956.8,674.23 958.83,674.23 960.86,674.23 962.88,674.23 964.91,674.23 966.94,674.23 968.96,674.23 970.99,674.23 973.02,674.23 975.04,674.23 977.07,674.23 979.1,674.23 981.12,674.23 983.15,674.23 985.17,674.23 987.2,674.23 989.23,674.23 991.25,674.23 993.28,674.23 995.31,674.23 997.33,674.23 999.36,674.23 1001.39,674.23 1003.41,674.23 1005.44,674.23 1007.47,674.23 1009.49,674.23 1011.52,674.23 1013.55,674.23 1015.57,674.23 1017.6,674.23 1019.63,674.23 1021.65,674.23 1023.68,674.23 1025.71,674.23 1027.73,674.23 1029.76,674.23 1031.79,674.23 1033.81,674.23 1035.84,674.23 1037.87,674.33 1039.89,674.43 1041.92,674.53 1043.95,674.62 1045.97,674.71 1048,674.8 1050.03,674.89 1052.05,674.97 1054.08,675.05 1056.11,675.13 1058.13,675.21 1060.16,675.28 1062.19,675.35 1064.21,675.42 1066.24,675.49 1068.27,675.55 1070.29,675.62 1072.32,675.68 1074.35,675.74 1076.37,675.79 1078.4,675.85 1080.43,675.9 1082.45,675.96 1084.48,676.01 1086.5,676.06 1088.53,676.1 1090.56,676.15 1092.58,676.19 1094.61,676.24 1096.64,676.28 1098.66,676.32 1100.69,676.36 1102.72,676.4 1104.74,676.43 1106.77,676.47 1108.8,676.5 1110.82,676.54 1112.85,676.57 1114.88,676.6 1116.9,676.63 1118.93,676.66 1120.96,676.69 1122.98,676.72 1125.01,676.75 1127.04,676.77 1129.06,676.8 1131.09,676.82 1133.12,676.85 1135.14,676.87 1137.17,676.89 1139.2,676.91 1141.22,676.94 1143.25,676.96 1145.28,676.98 1147.3,677 1149.33,677.01 1151.36,677.03 1153.38,677.05 1155.41,677.07 1157.44,677.08 1159.46,677.1 1161.49,677.11 1163.52,677.13 1165.54,677.14 1167.57,677.16 1169.6,677.17 1171.62,677.18 1173.65,677.2 1175.68,677.21 1177.7,677.22 1179.73,677.23 1181.76,677.24 1183.78,677.26 1185.81,677.27 1187.83,677.28 1189.86,677.29 1191.89,677.3 1193.91,677.31 1195.94,677.31 1197.97,677.32 1199.99,677.33 1202.02,677.34 1204.05,677.35 1206.07,677.36 1208.1,677.36 1210.13,677.37 1212.15,677.38 1214.18,677.38 1216.21,677.39 1218.23,677.4 1220.26,677.4 1222.29,677.41 1224.31,677.42 1226.34,677.42 1228.37,677.43 1230.39,677.43 1232.42,677.44 1234.45,677.44 1236.47,677.45 1238.5,677.45" fill="none" stroke="#f5cb5c" stroke-width="3" stroke-linejoin="round"/>
<polyline points="225.2,858.81 227.23,852.68 229.25,846.77 231.28,841.05 233.31,835.53 235.33,830.2 237.36,825.05 239.39,820.07 241.41,815.27 243.44,810.62 245.47,806.14 247.49,801.8 249.52,797.61 251.55,793.57 253.57,789.66 255.6,785.89 257.63,782.24 259.65,778.72 261.68,775.31 263.71,772.03 265.73,768.85 267.76,765.78 269.79,762.82 271.81,759.96 273.84,757.19 275.87,754.52 277.89,751.94 279.92,749.44 281.94,747.03 283.97,744.71 286,742.46 288.02,740.29 290.05,738.19 292.08,736.16 294.1,734.2 296.13,732.31 298.16,730.48 300.18,728.72 302.21,727.01 304.24,725.37 306.26,723.77 308.29,722.24 310.32,720.75 312.34,719.32 314.37,717.93 316.4,716.59 318.42,715.3 320.45,714.05 322.48,712.84 324.5,711.67 326.53,710.55 328.56,709.46 330.58,708.41 332.61,707.39 334.64,706.41 336.66,705.46 338.69,704.55 340.72,703.66 342.74,702.81 344.77,701.98 346.8,701.19 348.82,700.41 350.85,699.67 352.88,698.95 354.9,698.26 356.93,697.59 358.96,696.94 360.98,696.31 363.01,695.71 365.04,695.12 367.06,694.56 369.09,694.01 371.12,693.49 373.14,692.98 375.17,692.48 377.19,692.01 379.22,691.55 381.25,691.11 383.27,690.68 385.3,690.27 387.33,689.87 389.35,689.48 391.38,689.11 393.41,688.75 395.43,688.4 397.46,688.06 399.49,687.74 401.51,687.42 403.54,687.12 405.57,686.83 407.59,686.54 409.62,686.27 411.65,686.01 413.67,685.75 415.7,685.51 417.73,685.27 419.75,685.04 421.78,684.82 423.81,684.6 425.83,684.39 427.86,684.19 429.89,684 431.91,683.81 433.94,683.63 435.97,683.46 437.99,683.29 440.02,683.13 442.05,682.97 444.07,682.82 446.1,682.67 448.13,682.53 450.15,682.39 452.18,682.26 454.21,682.13 456.23,682.01 458.26,681.89 460.29,681.77 462.31,681.66 464.34,681.56 466.37,681.45 468.39,681.35 470.42,681.25 472.45,681.16 474.47,681.07 476.5,680.98 478.52,680.9 480.55,680.82 482.58,680.74 484.6,680.66 486.63,680.59 488.66,680.52 490.68,680.45 492.71,680.38 494.74,680.32 496.76,680.26 498.79,680.2 500.82,680.14 502.84,680.08 504.87,680.03 506.9,679.98 508.92,679.93 510.95,679.88 512.98,679.83 515,679.79 517.03,679.74 519.06,679.7 521.08,679.66 523.11,679.62 525.14,679.58 527.16,679.54 529.19,679.51 531.22,679.47 533.24,679.44 535.27,679.41 537.3,679.38 539.32,679.35 541.35,679.32 543.38,679.29 545.4,679.26 547.43,679.24 549.46,679.21 551.48,679.19 553.51,679.17 555.54,679.14 557.56,679.12 559.59,679.1 561.62,679.08 563.64,679.06 565.67,679.04 567.7,679.02 569.72,679 571.75,678.99 573.78,678.97 575.8,678.95 577.83,678.94 579.86,678.92 581.88,678.91 583.91,678.89 585.93,678.88 587.96,678.87 589.99,678.86 592.01,678.84 594.04,678.83 596.07,678.82 598.09,678.81 600.12,678.8 602.15,678.79 604.17,678.78 606.2,678.77 608.23,678.76 610.25,678.75 612.28,678.74 614.31,678.73 616.33,678.73 618.36,678.72 620.39,678.71 622.41,678.7 624.44,678.7 626.47,678.69 628.49,678.68 630.52,678.68 632.55,678.67 634.57,678.66 636.6,678.66 638.63,678.65 640.65,678.65 642.68,678.64 644.71,678.64 646.73,678.63 648.76,678.63 650.79,678.62 652.81,678.62 654.84,678.61 656.87,678.61 658.89,678.61 660.92,678.6 662.95,678.6 664.97,678.6 667,678.59 669.03,678.59 671.05,678.59 673.08,678.58 675.11,678.58 677.13,678.58 679.16,678.57 681.18,678.57 683.21,678.57 685.24,678.57 687.26,678.56 689.29,678.56 691.32,678.56 693.34,678.56 695.37,678.56 697.4,678.55 699.42,678.55 701.45,678.55 703.48,678.55 705.5,678.55 707.53,678.54 709.56,678.54 711.58,678.54 713.61,678.54 715.64,678.54 717.66,678.54 719.69,678.54 721.72,678.53 723.74,678.53 725.77,678.53 727.8,678.53 729.82,678.53 731.85,678.53 733.88,678.53 735.9,678.53 737.93,678.52 739.96,678.52 741.98,678.52 744.01,678.52 746.04,678.52 748.06,678.52 750.09,678.52 752.12,678.52 754.14,678.52 756.17,678.52 758.2,678.52 760.22,678.52 762.25,678.52 764.28,678.51 766.3,678.51 768.33,678.51 770.36,678.51 772.38,678.51 774.41,678.51 776.44,678.51 778.46,678.51 780.49,678.51 782.52,678.51 784.54,678.51 786.57,678.51 788.59,678.51 790.62,678.51 792.65,678.51 794.67,678.51 796.7,678.51 798.73,678.51 800.75,678.51 802.78,678.51 804.81,678.51 806.83,678.5 808.86,678.5 810.89,678.5 812.91,678.5 814.94,678.5 816.97,678.5 818.99,678.5 821.02,678.5 823.05,678.5 825.07,678.5 827.1,678.5 829.13,678.5 831.15,678.5 833.18,678.5 835.21,678.5 837.23,678.5 839.26,678.5 841.29,678.5 843.31,678.5 845.34,678.5 847.37,678.5 849.39,678.5 851.42,678.5 853.45,678.5 855.47,678.5 857.5,678.5 859.53,678.5 861.55,678.5 863.58,678.5 865.61,678.5 867.63,678.5 869.66,678.5 871.69,678.5 873.71,678.5 875.74,678.5 877.77,678.5 879.79,678.5 881.82,678.5 883.85,678.5 885.87,678.5 887.9,678.5 889.92,678.5 891.95,678.5 893.98,678.5 896,678.5 898.03,678.5 900.06,678.5 902.08,678.5 904.11,678.5 906.14,678.5 908.16,678.5 910.19,678.5 912.22,678.5 914.24,678.5 916.27,678.5 918.3,678.5 920.32,678.5 922.35,678.5 924.38,678.5 926.4,678.5 928.43,678.5 930.46,678.5 932.48,678.5 934.51,678.5 936.54,678.5 938.56,678.5 940.59,678.5 942.62,678.5 944.64,678.5 946.67,678.5 948.7,678.5 950.72,678.5 952.75,678.5 954.78,678.5 956.8,678.5 958.83,678.5 960.86,678.5 962.88,678.5 964.91,678.5 966.94,678.5 968.96,678.5 970.99,678.5 973.02,678.5 975.04,678.5 977.07,678.5 979.1,678.5 981.12,678.5 983.15,678.5 985.17,678.5 987.2,678.5 989.23,678.5 991.25,678.5 993.28,678.5 995.31,678.5 997.33,678.5 999.36,678.5 1001.39,678.5 1003.41,678.5 1005.44,678.5 1007.47,678.5 1009.49,678.5 1011.52,678.5 1013.55,678.5 1015.57,678.5 1017.6,678.5 1019.63,678.5 1021.65,678.5 1023.68,678.5 1025.71,678.5 1027.73,678.5 1029.76,678.5 1031.79,678.5 1033.81,678.5 1035.84,678.5 1037.87,678.55 1039.89,678.61 1041.92,678.66 1043.95,678.71 1045.97,678.76 1048,678.8 1050.03,678.85 1052.05,678.9 1054.08,678.94 1056.11,678.98 1058.13,679.02 1060.16,679.06 1062.19,679.1 1064.21,679.14 1066.24,679.17 1068.27,679.21 1070.29,679.24 1072.32,679.27 1074.35,679.3 1076.37,679.33 1078.4,679.36 1080.43,679.39 1082.45,679.42 1084.48,679.45 1086.5,679.47 1088.53,679.5 1090.56,679.52 1092.58,679.55 1094.61,679.57 1096.64,679.59 1098.66,679.62 1100.69,679.64 1102.72,679.66 1104.74,679.68 1106.77,679.7 1108.8,679.71 1110.82,679.73 1112.85,679.75 1114.88,679.77 1116.9,679.78 1118.93,679.8 1120.96,679.81 1122.98,679.83 1125.01,679.84 1127.04,679.86 1129.06,679.87 1131.09,679.88 1133.12,679.9 1135.14,679.91 1137.17,679.92 1139.2,679.93 1141.22,679.94 1143.25,679.96 1145.28,679.97 1147.3,679.98 1149.33,679.99 1151.36,680 1153.38,680.01 1155.41,680.01 1157.44,680.02 1159.46,680.03 1161.49,680.04 1163.52,680.05 1165.54,680.06 1167.57,680.06 1169.6,680.07 1171.62,680.08 1173.65,680.08 1175.68,680.09 1177.7,680.1 1179.73,680.1 1181.76,680.11 1183.78,680.12 1185.81,680.12 1187.83,680.13 1189.86,680.13 1191.89,680.14 1193.91,680.14 1195.94,680.15 1197.97,680.15 1199.99,680.16 1202.02,680.16 1204.05,680.17 1206.07,680.17 1208.1,680.17 1210.13,680.18 1212.15,680.18 1214.18,680.18 1216.21,680.19 1218.23,680.19 1220.26,680.2 1222.29,680.2 1224.31,680.2 1226.34,680.2 1228.37,680.21 1230.39,680.21 1232.42,680.21 1234.45,680.22 1236.47,680.22 1238.5,680.22" fill="none" stroke="#a970c0" stroke-width="3" stroke-linejoin="round"/>
<polyline points="225.2,858.81 227.23,853.24 229.25,847.85 231.28,842.63 233.31,837.58 235.33,832.69 237.36,827.95 239.39,823.37 241.41,818.93 243.44,814.63 245.47,810.47 247.49,806.44 249.52,802.54 251.55,798.76 253.57,795.1 255.6,791.56 257.63,788.13 259.65,784.81 261.68,781.6 263.71,778.49 265.73,775.47 267.76,772.56 269.79,769.73 271.81,767 273.84,764.35 275.87,761.79 277.89,759.3 279.92,756.9 281.94,754.57 283.97,752.32 286,750.14 288.02,748.03 290.05,745.98 292.08,744 294.1,742.09 296.13,740.23 298.16,738.43 300.18,736.69 302.21,735.01 304.24,733.38 306.26,731.8 308.29,730.27 310.32,728.79 312.34,727.36 314.37,725.97 316.4,724.63 318.42,723.33 320.45,722.07 322.48,720.85 324.5,719.67 326.53,718.53 328.56,717.42 330.58,716.35 332.61,715.31 334.64,714.31 336.66,713.33 338.69,712.39 340.72,711.48 342.74,710.6 344.77,709.74 346.8,708.91 348.82,708.11 350.85,707.34 352.88,706.59 354.9,705.86 356.93,705.16 358.96,704.47 360.98,703.81 363.01,703.18 365.04,702.56 367.06,701.96 369.09,701.38 371.12,700.82 373.14,700.27 375.17,699.75 377.19,699.24 379.22,698.74 381.25,698.27 383.27,697.8 385.3,697.35 387.33,696.92 389.35,696.5 391.38,696.09 393.41,695.7 395.43,695.32 397.46,694.95 399.49,694.59 401.51,694.25 403.54,693.91 405.57,693.59 407.59,693.28 409.62,692.97 411.65,692.68 413.67,692.39 415.7,692.12 417.73,691.85 419.75,691.59 421.78,691.34 423.81,691.1 425.83,690.86 427.86,690.64 429.89,690.42 431.91,690.2 433.94,690 435.97,689.8 437.99,689.6 440.02,689.42 442.05,689.24 444.07,689.06 446.1,688.89 448.13,688.73 450.15,688.57 452.18,688.41 454.21,688.26 456.23,688.12 458.26,687.98 460.29,687.84 462.31,687.71 464.34,687.58 466.37,687.46 468.39,687.34 470.42,687.23 472.45,687.12 474.47,687.01 476.5,686.9 478.52,686.8 480.55,686.7 482.58,686.61 484.6,686.52 486.63,686.43 488.66,686.34 490.68,686.26 492.71,686.18 494.74,686.1 496.76,686.02 498.79,685.95 500.82,685.88 502.84,685.81 504.87,685.74 506.9,685.68 508.92,685.62 510.95,685.56 512.98,685.5 515,685.44 517.03,685.39 519.06,685.33 521.08,685.28 523.11,685.23 525.14,685.18 527.16,685.14 529.19,685.09 531.22,685.05 533.24,685.01 535.27,684.96 537.3,684.92 539.32,684.89 541.35,684.85 543.38,684.81 545.4,684.78 547.43,684.74 549.46,684.71 551.48,684.68 553.51,684.65 555.54,684.62 557.56,684.59 559.59,684.56 561.62,684.54 563.64,684.51 565.67,684.48 567.7,684.46 569.72,684.44 571.75,684.41 573.78,684.39 575.8,684.37 577.83,684.35 579.86,684.33 581.88,684.31 583.91,684.29 585.93,684.27 587.96,684.25 589.99,684.24 592.01,684.22 594.04,684.2 596.07,684.19 598.09,684.17 600.12,684.16 602.15,684.15 604.17,684.13 606.2,684.12 608.23,684.11 610.25,684.09 612.28,684.08 614.31,684.07 616.33,684.06 618.36,684.05 620.39,684.04 622.41,684.03 624.44,684.02 626.47,684.01 628.49,684 630.52,683.99 632.55,683.98 634.57,683.97 636.6,683.96 638.63,683.96 640.65,683.95 642.68,683.94 644.71,683.93 646.73,683.93 648.76,683.92 650.79,683.91 652.81,683.91 654.84,683.9 656.87,683.9 658.89,683.89 660.92,683.88 662.95,683.88 664.97,683.87 667,683.87 669.03,683.86 671.05,683.86 673.08,683.85 675.11,683.85 677.13,683.85 679.16,683.84 681.18,683.84 683.21,683.83 685.24,683.83 687.26,683.83 689.29,683.82 691.32,683.82 693.34,683.82 695.37,683.81 697.4,683.81 699.42,683.81 701.45,683.8 703.48,683.8 705.5,683.8 707.53,683.8 709.56,683.79 711.58,683.79 713.61,683.79 715.64,683.79 717.66,683.78 719.69,683.78 721.72,683.78 723.74,683.78 725.77,683.78 727.8,683.77 729.82,683.77 731.85,683.77 733.88,683.77 735.9,683.77 737.93,683.76 739.96,683.76 741.98,683.76 744.01,683.76 746.04,683.76 748.06,683.76 750.09,683.76 752.12,683.75 754.14,683.75 756.17,683.75 758.2,683.75 760.22,683.75 762.25,683.75 764.28,683.75 766.3,683.75 768.33,683.75 770.36,683.74 772.38,683.74 774.41,683.74 776.44,683.74 778.46,683.74 780.49,683.74 782.52,683.74 784.54,683.74 786.57,683.74 788.59,683.74 790.62,683.74 792.65,683.74 794.67,683.74 796.7,683.73 798.73,683.73 800.75,683.73 802.78,683.73 804.81,683.73 806.83,683.73 808.86,683.73 810.89,683.73 812.91,683.73 814.94,683.73 816.97,683.73 818.99,683.73 821.02,683.73 823.05,683.73 825.07,683.73 827.1,683.73 829.13,683.73 831.15,683.73 833.18,683.73 835.21,683.73 837.23,683.73 839.26,683.73 841.29,683.73 843.31,683.72 845.34,683.72 847.37,683.72 849.39,683.72 851.42,683.72 853.45,683.72 855.47,683.72 857.5,683.72 859.53,683.72 861.55,683.72 863.58,683.72 865.61,683.72 867.63,683.72 869.66,683.72 871.69,683.72 873.71,683.72 875.74,683.72 877.77,683.72 879.79,683.72 881.82,683.72 883.85,683.72 885.87,683.72 887.9,683.72 889.92,683.72 891.95,683.72 893.98,683.72 896,683.72 898.03,683.72 900.06,683.72 902.08,683.72 904.11,683.72 906.14,683.72 908.16,683.72 910.19,683.72 912.22,683.72 914.24,683.72 916.27,683.72 918.3,683.72 920.32,683.72 922.35,683.72 924.38,683.72 926.4,683.72 928.43,683.72 930.46,683.72 932.48,683.72 934.51,683.72 936.54,683.72 938.56,683.72 940.59,683.72 942.62,683.72 944.64,683.72 946.67,683.72 948.7,683.72 950.72,683.72 952.75,683.72 954.78,683.72 956.8,683.72 958.83,683.72 960.86,683.72 962.88,683.72 964.91,683.72 966.94,683.72 968.96,683.72 970.99,683.72 973.02,683.72 975.04,683.72 977.07,683.72 979.1,683.72 981.12,683.72 983.15,683.72 985.17,683.72 987.2,683.72 989.23,683.72 991.25,683.72 993.28,683.72 995.31,683.72 997.33,683.72 999.36,683.72 1001.39,683.72 1003.41,683.72 1005.44,683.72 1007.47,683.72 1009.49,683.72 1011.52,683.72 1013.55,683.72 1015.57,683.72 1017.6,683.72 1019.63,683.72 1021.65,683.72 1023.68,683.72 1025.71,683.72 1027.73,683.72 1029.76,683.72 1031.79,683.72 1033.81,683.72 1035.84,683.72 1037.87,683.68 1039.89,683.64 1041.92,683.61 1043.95,683.57 1045.97,683.54 1048,683.51 1050.03,683.48 1052.05,683.45 1054.08,683.42 1056.11,683.39 1058.13,683.36 1060.16,683.34 1062.19,683.31 1064.21,683.29 1066.24,683.26 1068.27,683.24 1070.29,683.21 1072.32,683.19 1074.35,683.17 1076.37,683.15 1078.4,683.13 1080.43,683.11 1082.45,683.09 1084.48,683.07 1086.5,683.06 1088.53,683.04 1090.56,683.02 1092.58,683.01 1094.61,682.99 1096.64,682.98 1098.66,682.96 1100.69,682.95 1102.72,682.93 1104.74,682.92 1106.77,682.91 1108.8,682.89 1110.82,682.88 1112.85,682.87 1114.88,682.86 1116.9,682.85 1118.93,682.84 1120.96,682.83 1122.98,682.82 1125.01,682.81 1127.04,682.8 1129.06,682.79 1131.09,682.78 1133.12,682.77 1135.14,682.76 1137.17,682.75 1139.2,682.75 1141.22,682.74 1143.25,682.73 1145.28,682.72 1147.3,682.72 1149.33,682.71 1151.36,682.7 1153.38,682.7 1155.41,682.69 1157.44,682.69 1159.46,682.68 1161.49,682.68 1163.52,682.67 1165.54,682.66 1167.57,682.66 1169.6,682.65 1171.62,682.65 1173.65,682.65 1175.68,682.64 1177.7,682.64 1179.73,682.63 1181.76,682.63 1183.78,682.62 1185.81,682.62 1187.83,682.62 1189.86,682.61 1191.89,682.61 1193.91,682.61 1195.94,682.6 1197.97,682.6 1199.99,682.6 1202.02,682.59 1204.05,682.59 1206.07,682.59 1208.1,682.59 1210.13,682.58 1212.15,682.58 1214.18,682.58 1216.21,682.58 1218.23,682.57 1220.26,682.57 1222.29,682.57 1224.31,682.57 1226.34,682.56 1228.37,682.56 1230.39,682.56 1232.42,682.56 1234.45,682.56 1236.47,682.56 1238.5,682.55" fill="none" stroke="#96c95c" stroke-width="3" stroke-linejoin="round"/>
<polyline points="225.2,858.81 227.23,853.25 229.25,847.87 231.28,842.67 233.31,837.64 235.33,832.77 237.36,828.06 239.39,823.51 241.41,819.1 243.44,814.83 245.47,810.71 247.49,806.72 249.52,802.85 251.55,799.12 253.57,795.5 255.6,792.01 257.63,788.62 259.65,785.35 261.68,782.18 263.71,779.12 265.73,776.15 267.76,773.29 269.79,770.51 271.81,767.83 273.84,765.23 275.87,762.72 277.89,760.29 279.92,757.93 281.94,755.66 283.97,753.46 286,751.33 288.02,749.27 290.05,747.27 292.08,745.35 294.1,743.48 296.13,741.67 298.16,739.93 300.18,738.24 302.21,736.6 304.24,735.02 306.26,733.49 308.29,732.01 310.32,730.58 312.34,729.19 314.37,727.85 316.4,726.56 318.42,725.3 320.45,724.09 322.48,722.91 324.5,721.78 326.53,720.68 328.56,719.62 330.58,718.59 332.61,717.59 334.64,716.63 336.66,715.7 338.69,714.8 340.72,713.92 342.74,713.08 344.77,712.26 346.8,711.47 348.82,710.71 350.85,709.97 352.88,709.26 354.9,708.56 356.93,707.89 358.96,707.25 360.98,706.62 363.01,706.01 365.04,705.43 367.06,704.86 369.09,704.31 371.12,703.78 373.14,703.27 375.17,702.77 377.19,702.29 379.22,701.82 381.25,701.37 383.27,700.94 385.3,700.52 387.33,700.11 389.35,699.71 391.38,699.33 393.41,698.96 395.43,698.61 397.46,698.26 399.49,697.93 401.51,697.6 403.54,697.29 405.57,696.99 407.59,696.7 409.62,696.41 411.65,696.14 413.67,695.87 415.7,695.62 417.73,695.37 419.75,695.13 421.78,694.9 423.81,694.67 425.83,694.45 427.86,694.24 429.89,694.04 431.91,693.84 433.94,693.65 435.97,693.47 437.99,693.29 440.02,693.12 442.05,692.95 444.07,692.79 446.1,692.63 448.13,692.48 450.15,692.34 452.18,692.19 454.21,692.06 456.23,691.92 458.26,691.8 460.29,691.67 462.31,691.55 464.34,691.44 466.37,691.32 468.39,691.22 470.42,691.11 472.45,691.01 474.47,690.91 476.5,690.82 478.52,690.72 480.55,690.63 482.58,690.55 484.6,690.46 486.63,690.38 488.66,690.31 490.68,690.23 492.71,690.16 494.74,690.09 496.76,690.02 498.79,689.95 500.82,689.89 502.84,689.83 504.87,689.77 506.9,689.71 508.92,689.65 510.95,689.6 512.98,689.55 515,689.5 517.03,689.45 519.06,689.4 521.08,689.35 523.11,689.31 525.14,689.27 527.16,689.22 529.19,689.18 531.22,689.14 533.24,689.11 535.27,689.07 537.3,689.04 539.32,689 541.35,688.97 543.38,688.94 545.4,688.91 547.43,688.88 549.46,688.85 551.48,688.82 553.51,688.79 555.54,688.77 557.56,688.74 559.59,688.72 561.62,688.69 563.64,688.67 565.67,688.65 567.7,688.62 569.72,688.6 571.75,688.58 573.78,688.56 575.8,688.55 577.83,688.53 579.86,688.51 581.88,688.49 583.91,688.48 585.93,688.46 587.96,688.45 589.99,688.43 592.01,688.42 594.04,688.4 596.07,688.39 598.09,688.38 600.12,688.36 602.15,688.35 604.17,688.34 606.2,688.33 608.23,688.32 610.25,688.31 612.28,688.29 614.31,688.28 616.33,688.27 618.36,688.27 620.39,688.26 622.41,688.25 624.44,688.24 626.47,688.23 628.49,688.22 630.52,688.22 632.55,688.21 634.57,688.2 636.6,688.19 638.63,688.19 640.65,688.18 642.68,688.17 644.71,688.17 646.73,688.16 648.76,688.16 650.79,688.15 652.81,688.15 654.84,688.14 656.87,688.14 658.89,688.13 660.92,688.13 662.95,688.12 664.97,688.12 667,688.11 669.03,688.11 671.05,688.1 673.08,688.1 675.11,688.1 677.13,688.09 679.16,688.09 681.18,688.09 683.21,688.08 685.24,688.08 687.26,688.08 689.29,688.07 691.32,688.07 693.34,688.07 695.37,688.07 697.4,688.06 699.42,688.06 701.45,688.06 703.48,688.06 705.5,688.05 707.53,688.05 709.56,688.05 711.58,688.05 713.61,688.05 715.64,688.04 717.66,688.04 719.69,688.04 721.72,688.04 723.74,688.04 725.77,688.03 727.8,688.03 729.82,688.03 731.85,688.03 733.88,688.03 735.9,688.03 737.93,688.03 739.96,688.02 741.98,688.02 744.01,688.02 746.04,688.02 748.06,688.02 750.09,688.02 752.12,688.02 754.14,688.02 756.17,688.02 758.2,688.01 760.22,688.01 762.25,688.01 764.28,688.01 766.3,688.01 768.33,688.01 770.36,688.01 772.38,688.01 774.41,688.01 776.44,688.01 778.46,688.01 780.49,688.01 782.52,688.01 784.54,688 786.57,688 788.59,688 790.62,688 792.65,688 794.67,688 796.7,688 798.73,688 800.75,688 802.78,688 804.81,688 806.83,688 808.86,688 810.89,688 812.91,688 814.94,688 816.97,688 818.99,688 821.02,688 823.05,688 825.07,688 827.1,688 829.13,687.99 831.15,687.99 833.18,687.99 835.21,687.99 837.23,687.99 839.26,687.99 841.29,687.99 843.31,687.99 845.34,687.99 847.37,687.99 849.39,687.99 851.42,687.99 853.45,687.99 855.47,687.99 857.5,687.99 859.53,687.99 861.55,687.99 863.58,687.99 865.61,687.99 867.63,687.99 869.66,687.99 871.69,687.99 873.71,687.99 875.74,687.99 877.77,687.99 879.79,687.99 881.82,687.99 883.85,687.99 885.87,687.99 887.9,687.99 889.92,687.99 891.95,687.99 893.98,687.99 896,687.99 898.03,687.99 900.06,687.99 902.08,687.99 904.11,687.99 906.14,687.99 908.16,687.99 910.19,687.99 912.22,687.99 914.24,687.99 916.27,687.99 918.3,687.99 920.32,687.99 922.35,687.99 924.38,687.99 926.4,687.99 928.43,687.99 930.46,687.99 932.48,687.99 934.51,687.99 936.54,687.99 938.56,687.99 940.59,687.99 942.62,687.99 944.64,687.99 946.67,687.99 948.7,687.99 950.72,687.99 952.75,687.99 954.78,687.99 956.8,687.99 958.83,687.99 960.86,687.99 962.88,687.99 964.91,687.99 966.94,687.99 968.96,687.99 970.99,687.99 973.02,687.99 975.04,687.99 977.07,687.99 979.1,687.99 981.12,687.99 983.15,687.99 985.17,687.99 987.2,687.99 989.23,687.99 991.25,687.99 993.28,687.99 995.31,687.99 997.33,687.99 999.36,687.99 1001.39,687.99 1003.41,687.99 1005.44,687.99 1007.47,687.99 1009.49,687.99 1011.52,687.99 1013.55,687.99 1015.57,687.99 1017.6,687.99 1019.63,687.99 1021.65,687.99 1023.68,687.99 1025.71,687.99 1027.73,687.99 1029.76,687.99 1031.79,687.99 1033.81,687.99 1035.84,687.99 1037.87,687.86 1039.89,687.74 1041.92,687.63 1043.95,687.52 1045.97,687.41 1048,687.3 1050.03,687.2 1052.05,687.1 1054.08,687.01 1056.11,686.92 1058.13,686.83 1060.16,686.74 1062.19,686.66 1064.21,686.57 1066.24,686.49 1068.27,686.42 1070.29,686.34 1072.32,686.27 1074.35,686.2 1076.37,686.13 1078.4,686.07 1080.43,686 1082.45,685.94 1084.48,685.88 1086.5,685.83 1088.53,685.77 1090.56,685.71 1092.58,685.66 1094.61,685.61 1096.64,685.56 1098.66,685.51 1100.69,685.47 1102.72,685.42 1104.74,685.38 1106.77,685.34 1108.8,685.29 1110.82,685.25 1112.85,685.22 1114.88,685.18 1116.9,685.14 1118.93,685.11 1120.96,685.07 1122.98,685.04 1125.01,685.01 1127.04,684.98 1129.06,684.95 1131.09,684.92 1133.12,684.89 1135.14,684.86 1137.17,684.84 1139.2,684.81 1141.22,684.78 1143.25,684.76 1145.28,684.74 1147.3,684.71 1149.33,684.69 1151.36,684.67 1153.38,684.65 1155.41,684.63 1157.44,684.61 1159.46,684.59 1161.49,684.57 1163.52,684.56 1165.54,684.54 1167.57,684.52 1169.6,684.51 1171.62,684.49 1173.65,684.48 1175.68,684.46 1177.7,684.45 1179.73,684.43 1181.76,684.42 1183.78,684.41 1185.81,684.39 1187.83,684.38 1189.86,684.37 1191.89,684.36 1193.91,684.35 1195.94,684.34 1197.97,684.33 1199.99,684.32 1202.02,684.31 1204.05,684.3 1206.07,684.29 1208.1,684.28 1210.13,684.27 1212.15,684.26 1214.18,684.25 1216.21,684.25 1218.23,684.24 1220.26,684.23 1222.29,684.22 1224.31,684.22 1226.34,684.21 1228.37,684.2 1230.39,684.2 1232.42,684.19 1234.45,684.19 1236.47,684.18 1238.5,684.18" fill="none" stroke="#7fd6f6" stroke-width="3" stroke-linejoin="round"/>
<polyline points="225.2,858.81 227.23,853.23 229.25,847.84 231.28,842.63 233.31,837.59 235.33,832.72 237.36,828.02 239.39,823.48 241.41,819.08 243.44,814.84 245.47,810.74 247.49,806.77 249.52,802.94 251.55,799.24 253.57,795.66 255.6,792.2 257.63,788.86 259.65,785.63 261.68,782.51 263.71,779.5 265.73,776.58 267.76,773.77 269.79,771.04 271.81,768.41 273.84,765.87 275.87,763.41 277.89,761.04 279.92,758.74 281.94,756.53 283.97,754.38 286,752.31 288.02,750.31 290.05,748.38 292.08,746.51 294.1,744.7 296.13,742.96 298.16,741.27 300.18,739.64 302.21,738.06 304.24,736.54 306.26,735.07 308.29,733.65 310.32,732.27 312.34,730.94 314.37,729.66 316.4,728.42 318.42,727.22 320.45,726.06 322.48,724.94 324.5,723.86 326.53,722.81 328.56,721.8 330.58,720.83 332.61,719.88 334.64,718.97 336.66,718.09 338.69,717.24 340.72,716.41 342.74,715.62 344.77,714.85 346.8,714.11 348.82,713.39 350.85,712.69 352.88,712.02 354.9,711.38 356.93,710.75 358.96,710.14 360.98,709.56 363.01,708.99 365.04,708.45 367.06,707.92 369.09,707.41 371.12,706.92 373.14,706.44 375.17,705.98 377.19,705.53 379.22,705.1 381.25,704.69 383.27,704.29 385.3,703.9 387.33,703.52 389.35,703.16 391.38,702.81 393.41,702.47 395.43,702.14 397.46,701.83 399.49,701.52 401.51,701.23 403.54,700.94 405.57,700.67 407.59,700.4 409.62,700.14 411.65,699.89 413.67,699.65 415.7,699.42 417.73,699.2 419.75,698.98 421.78,698.77 423.81,698.57 425.83,698.37 427.86,698.18 429.89,698 431.91,697.82 433.94,697.65 435.97,697.48 437.99,697.32 440.02,697.17 442.05,697.02 444.07,696.88 446.1,696.74 448.13,696.6 450.15,696.47 452.18,696.35 454.21,696.23 456.23,696.11 458.26,695.99 460.29,695.89 462.31,695.78 464.34,695.68 466.37,695.58 468.39,695.48 470.42,695.39 472.45,695.3 474.47,695.21 476.5,695.13 478.52,695.05 480.55,694.97 482.58,694.9 484.6,694.82 486.63,694.75 488.66,694.69 490.68,694.62 492.71,694.56 494.74,694.5 496.76,694.44 498.79,694.38 500.82,694.32 502.84,694.27 504.87,694.22 506.9,694.17 508.92,694.12 510.95,694.07 512.98,694.03 515,693.98 517.03,693.94 519.06,693.9 521.08,693.86 523.11,693.82 525.14,693.79 527.16,693.75 529.19,693.72 531.22,693.68 533.24,693.65 535.27,693.62 537.3,693.59 539.32,693.56 541.35,693.54 543.38,693.51 545.4,693.48 547.43,693.46 549.46,693.43 551.48,693.41 553.51,693.39 555.54,693.36 557.56,693.34 559.59,693.32 561.62,693.3 563.64,693.28 565.67,693.26 567.7,693.25 569.72,693.23 571.75,693.21 573.78,693.2 575.8,693.18 577.83,693.17 579.86,693.15 581.88,693.14 583.91,693.12 585.93,693.11 587.96,693.1 589.99,693.09 592.01,693.07 594.04,693.06 596.07,693.05 598.09,693.04 600.12,693.03 602.15,693.02 604.17,693.01 606.2,693 608.23,692.99 610.25,692.98 612.28,692.97 614.31,692.97 616.33,692.96 618.36,692.95 620.39,692.94 622.41,692.94 624.44,692.93 626.47,692.92 628.49,692.92 630.52,692.91 632.55,692.9 634.57,692.9 636.6,692.89 638.63,692.89 640.65,692.88 642.68,692.88 644.71,692.87 646.73,692.87 648.76,692.86 650.79,692.86 652.81,692.85 654.84,692.85 656.87,692.85 658.89,692.84 660.92,692.84 662.95,692.83 664.97,692.83 667,692.83 669.03,692.82 671.05,692.82 673.08,692.82 675.11,692.82 677.13,692.81 679.16,692.81 681.18,692.81 683.21,692.8 685.24,692.8 687.26,692.8 689.29,692.8 691.32,692.8 693.34,692.79 695.37,692.79 697.4,692.79 699.42,692.79 701.45,692.79 703.48,692.78 705.5,692.78 707.53,692.78 709.56,692.78 711.58,692.78 713.61,692.78 715.64,692.77 717.66,692.77 719.69,692.77 721.72,692.77 723.74,692.77 725.77,692.77 727.8,692.77 729.82,692.76 731.85,692.76 733.88,692.76 735.9,692.76 737.93,692.76 739.96,692.76 741.98,692.76 744.01,692.76 746.04,692.76 748.06,692.76 750.09,692.75 752.12,692.75 754.14,692.75 756.17,692.75 758.2,692.75 760.22,692.75 762.25,692.75 764.28,692.75 766.3,692.75 768.33,692.75 770.36,692.75 772.38,692.75 774.41,692.75 776.44,692.75 778.46,692.75 780.49,692.75 782.52,692.74 784.54,692.74 786.57,692.74 788.59,692.74 790.62,692.74 792.65,692.74 794.67,692.74 796.7,692.74 798.73,692.74 800.75,692.74 802.78,692.74 804.81,692.74 806.83,692.74 808.86,692.74 810.89,692.74 812.91,692.74 814.94,692.74 816.97,692.74 818.99,692.74 821.02,692.74 823.05,692.74 825.07,692.74 827.1,692.74 829.13,692.74 831.15,692.74 833.18,692.74 835.21,692.74 837.23,692.74 839.26,692.74 841.29,692.74 843.31,692.74 845.34,692.74 847.37,692.74 849.39,692.74 851.42,692.74 853.45,692.74 855.47,692.74 857.5,692.73 859.53,692.73 861.55,692.73 863.58,692.73 865.61,692.73 867.63,692.73 869.66,692.73 871.69,692.73 873.71,692.73 875.74,692.73 877.77,692.73 879.79,692.73 881.82,692.73 883.85,692.73 885.87,692.73 887.9,692.73 889.92,692.73 891.95,692.73 893.98,692.73 896,692.73 898.03,692.73 900.06,692.73 902.08,692.73 904.11,692.73 906.14,692.73 908.16,692.73 910.19,692.73 912.22,692.73 914.24,692.73 916.27,692.73 918.3,692.73 920.32,692.73 922.35,692.73 924.38,692.73 926.4,692.73 928.43,692.73 930.46,692.73 932.48,692.73 934.51,692.73 936.54,692.73 938.56,692.73 940.59,692.73 942.62,692.73 944.64,692.73 946.67,692.73 948.7,692.73 950.72,692.73 952.75,692.73 954.78,692.73 956.8,692.73 958.83,692.73 960.86,692.73 962.88,692.73 964.91,692.73 966.94,692.73 968.96,692.73 970.99,692.73 973.02,692.73 975.04,692.73 977.07,692.73 979.1,692.73 981.12,692.73 983.15,692.73 985.17,692.73 987.2,692.73 989.23,692.73 991.25,692.73 993.28,692.73 995.31,692.73 997.33,692.73 999.36,692.73 1001.39,692.73 1003.41,692.73 1005.44,692.73 1007.47,692.73 1009.49,692.73 1011.52,692.73 1013.55,692.73 1015.57,692.73 1017.6,692.73 1019.63,692.73 1021.65,692.73 1023.68,692.73 1025.71,692.73 1027.73,692.73 1029.76,692.73 1031.79,692.73 1033.81,692.73 1035.84,692.73 1037.87,692.55 1039.89,692.37 1041.92,692.19 1043.95,692.02 1045.97,691.86 1048,691.7 1050.03,691.55 1052.05,691.4 1054.08,691.25 1056.11,691.11 1058.13,690.98 1060.16,690.85 1062.19,690.72 1064.21,690.59 1066.24,690.47 1068.27,690.36 1070.29,690.25 1072.32,690.14 1074.35,690.03 1076.37,689.93 1078.4,689.83 1080.43,689.73 1082.45,689.64 1084.48,689.55 1086.5,689.46 1088.53,689.38 1090.56,689.29 1092.58,689.21 1094.61,689.14 1096.64,689.06 1098.66,688.99 1100.69,688.92 1102.72,688.85 1104.74,688.78 1106.77,688.72 1108.8,688.66 1110.82,688.6 1112.85,688.54 1114.88,688.48 1116.9,688.43 1118.93,688.37 1120.96,688.32 1122.98,688.27 1125.01,688.22 1127.04,688.18 1129.06,688.13 1131.09,688.09 1133.12,688.05 1135.14,688 1137.17,687.96 1139.2,687.93 1141.22,687.89 1143.25,687.85 1145.28,687.82 1147.3,687.78 1149.33,687.75 1151.36,687.72 1153.38,687.68 1155.41,687.65 1157.44,687.62 1159.46,687.6 1161.49,687.57 1163.52,687.54 1165.54,687.52 1167.57,687.49 1169.6,687.47 1171.62,687.44 1173.65,687.42 1175.68,687.4 1177.7,687.38 1179.73,687.36 1181.76,687.34 1183.78,687.32 1185.81,687.3 1187.83,687.28 1189.86,687.26 1191.89,687.24 1193.91,687.23 1195.94,687.21 1197.97,687.2 1199.99,687.18 1202.02,687.17 1204.05,687.15 1206.07,687.14 1208.1,687.12 1210.13,687.11 1212.15,687.1 1214.18,687.09 1216.21,687.07 1218.23,687.06 1220.26,687.05 1222.29,687.04 1224.31,687.03 1226.34,687.02 1228.37,687.01 1230.39,687 1232.42,686.99 1234.45,686.98 1236.47,686.97 1238.5,686.96" fill="none" stroke="#b8405e" stroke-width="3" stroke-linejoin="round"/>
<polyline points="225.2,858.81 227.23,853.01 229.25,847.42 231.28,842.04 233.31,836.85 235.33,831.84 237.36,827.02 239.39,822.37 241.41,817.88 243.44,813.56 245.47,809.39 247.49,805.37 249.52,801.5 251.55,797.77 253.57,794.17 255.6,790.7 257.63,787.35 259.65,784.13 261.68,781.02 263.71,778.02 265.73,775.13 267.76,772.35 269.79,769.66 271.81,767.08 273.84,764.58 275.87,762.17 277.89,759.86 279.92,757.62 281.94,755.47 283.97,753.39 286,751.38 288.02,749.45 290.05,747.59 292.08,745.8 294.1,744.07 296.13,742.4 298.16,740.79 300.18,739.24 302.21,737.75 304.24,736.31 306.26,734.92 308.29,733.58 310.32,732.29 312.34,731.05 314.37,729.85 316.4,728.69 318.42,727.58 320.45,726.5 322.48,725.47 324.5,724.47 326.53,723.51 328.56,722.58 330.58,721.69 332.61,720.82 334.64,719.99 336.66,719.19 338.69,718.42 340.72,717.67 342.74,716.95 344.77,716.26 346.8,715.6 348.82,714.95 350.85,714.33 352.88,713.73 354.9,713.16 356.93,712.6 358.96,712.07 360.98,711.55 363.01,711.05 365.04,710.57 367.06,710.11 369.09,709.66 371.12,709.23 373.14,708.82 375.17,708.42 377.19,708.03 379.22,707.66 381.25,707.31 383.27,706.96 385.3,706.63 387.33,706.31 389.35,706 391.38,705.7 393.41,705.41 395.43,705.14 397.46,704.87 399.49,704.61 401.51,704.36 403.54,704.12 405.57,703.89 407.59,703.67 409.62,703.46 411.65,703.25 413.67,703.05 415.7,702.86 417.73,702.67 419.75,702.5 421.78,702.32 423.81,702.16 425.83,702 427.86,701.84 429.89,701.69 431.91,701.55 433.94,701.41 435.97,701.28 437.99,701.15 440.02,701.03 442.05,700.91 444.07,700.79 446.1,700.68 448.13,700.58 450.15,700.47 452.18,700.37 454.21,700.28 456.23,700.19 458.26,700.1 460.29,700.01 462.31,699.93 464.34,699.85 466.37,699.77 468.39,699.7 470.42,699.63 472.45,699.56 474.47,699.49 476.5,699.43 478.52,699.37 480.55,699.31 482.58,699.25 484.6,699.19 486.63,699.14 488.66,699.09 490.68,699.04 492.71,698.99 494.74,698.95 496.76,698.9 498.79,698.86 500.82,698.82 502.84,698.78 504.87,698.74 506.9,698.7 508.92,698.67 510.95,698.63 512.98,698.6 515,698.57 517.03,698.54 519.06,698.51 521.08,698.48 523.11,698.45 525.14,698.42 527.16,698.4 529.19,698.37 531.22,698.35 533.24,698.33 535.27,698.31 537.3,698.28 539.32,698.26 541.35,698.24 543.38,698.22 545.4,698.21 547.43,698.19 549.46,698.17 551.48,698.16 553.51,698.14 555.54,698.12 557.56,698.11 559.59,698.09 561.62,698.08 563.64,698.07 565.67,698.06 567.7,698.04 569.72,698.03 571.75,698.02 573.78,698.01 575.8,698 577.83,697.99 579.86,697.98 581.88,697.97 583.91,697.96 585.93,697.95 587.96,697.94 589.99,697.93 592.01,697.93 594.04,697.92 596.07,697.91 598.09,697.9 600.12,697.9 602.15,697.89 604.17,697.88 606.2,697.88 608.23,697.87 610.25,697.87 612.28,697.86 614.31,697.86 616.33,697.85 618.36,697.85 620.39,697.84 622.41,697.84 624.44,697.83 626.47,697.83 628.49,697.82 630.52,697.82 632.55,697.82 634.57,697.81 636.6,697.81 638.63,697.8 640.65,697.8 642.68,697.8 644.71,697.8 646.73,697.79 648.76,697.79 650.79,697.79 652.81,697.78 654.84,697.78 656.87,697.78 658.89,697.78 660.92,697.77 662.95,697.77 664.97,697.77 667,697.77 669.03,697.77 671.05,697.76 673.08,697.76 675.11,697.76 677.13,697.76 679.16,697.76 681.18,697.76 683.21,697.75 685.24,697.75 687.26,697.75 689.29,697.75 691.32,697.75 693.34,697.75 695.37,697.75 697.4,697.74 699.42,697.74 701.45,697.74 703.48,697.74 705.5,697.74 707.53,697.74 709.56,697.74 711.58,697.74 713.61,697.74 715.64,697.74 717.66,697.74 719.69,697.73 721.72,697.73 723.74,697.73 725.77,697.73 727.8,697.73 729.82,697.73 731.85,697.73 733.88,697.73 735.9,697.73 737.93,697.73 739.96,697.73 741.98,697.73 744.01,697.73 746.04,697.73 748.06,697.73 750.09,697.73 752.12,697.73 754.14,697.72 756.17,697.72 758.2,697.72 760.22,697.72 762.25,697.72 764.28,697.72 766.3,697.72 768.33,697.72 770.36,697.72 772.38,697.72 774.41,697.72 776.44,697.72 778.46,697.72 780.49,697.72 782.52,697.72 784.54,697.72 786.57,697.72 788.59,697.72 790.62,697.72 792.65,697.72 794.67,697.72 796.7,697.72 798.73,697.72 800.75,697.72 802.78,697.72 804.81,697.72 806.83,697.72 808.86,697.72 810.89,697.72 812.91,697.72 814.94,697.72 816.97,697.72 818.99,697.72 821.02,697.72 823.05,697.72 825.07,697.72 827.1,697.72 829.13,697.72 831.15,697.72 833.18,697.72 835.21,697.72 837.23,697.72 839.26,697.72 841.29,697.72 843.31,697.72 845.34,697.72 847.37,697.72 849.39,697.72 851.42,697.72 853.45,697.72 855.47,697.72 857.5,697.71 859.53,697.71 861.55,697.71 863.58,697.71 865.61,697.71 867.63,697.71 869.66,697.71 871.69,697.71 873.71,697.71 875.74,697.71 877.77,697.71 879.79,697.71 881.82,697.71 883.85,697.71 885.87,697.71 887.9,697.71 889.92,697.71 891.95,697.71 893.98,697.71 896,697.71 898.03,697.71 900.06,697.71 902.08,697.71 904.11,697.71 906.14,697.71 908.16,697.71 910.19,697.71 912.22,697.71 914.24,697.71 916.27,697.71 918.3,697.71 920.32,697.71 922.35,697.71 924.38,697.71 926.4,697.71 928.43,697.71 930.46,697.71 932.48,697.71 934.51,697.71 936.54,697.71 938.56,697.71 940.59,697.71 942.62,697.71 944.64,697.71 946.67,697.71 948.7,697.71 950.72,697.71 952.75,697.71 954.78,697.71 956.8,697.71 958.83,697.71 960.86,697.71 962.88,697.71 964.91,697.71 966.94,697.71 968.96,697.71 970.99,697.71 973.02,697.71 975.04,697.71 977.07,697.71 979.1,697.71 981.12,697.71 983.15,697.71 985.17,697.71 987.2,697.71 989.23,697.71 991.25,697.71 993.28,697.71 995.31,697.71 997.33,697.71 999.36,697.71 1001.39,697.71 1003.41,697.71 1005.44,697.71 1007.47,697.71 1009.49,697.71 1011.52,697.71 1013.55,697.71 1015.57,697.71 1017.6,697.71 1019.63,697.71 1021.65,697.71 1023.68,697.71 1025.71,697.71 1027.73,697.71 1029.76,697.71 1031.79,697.71 1033.81,697.71 1035.84,697.71 1037.87,697.34 1039.89,696.97 1041.92,696.62 1043.95,696.28 1045.97,695.95 1048,695.63 1050.03,695.31 1052.05,695.01 1054.08,694.72 1056.11,694.44 1058.13,694.16 1060.16,693.89 1062.19,693.64 1064.21,693.39 1066.24,693.14 1068.27,692.91 1070.29,692.68 1072.32,692.46 1074.35,692.24 1076.37,692.04 1078.4,691.84 1080.43,691.64 1082.45,691.45 1084.48,691.27 1086.5,691.09 1088.53,690.92 1090.56,690.75 1092.58,690.59 1094.61,690.43 1096.64,690.28 1098.66,690.14 1100.69,689.99 1102.72,689.85 1104.74,689.72 1106.77,689.59 1108.8,689.47 1110.82,689.34 1112.85,689.22 1114.88,689.11 1116.9,689 1118.93,688.89 1120.96,688.79 1122.98,688.69 1125.01,688.59 1127.04,688.49 1129.06,688.4 1131.09,688.31 1133.12,688.23 1135.14,688.14 1137.17,688.06 1139.2,687.98 1141.22,687.9 1143.25,687.83 1145.28,687.76 1147.3,687.69 1149.33,687.62 1151.36,687.56 1153.38,687.49 1155.41,687.43 1157.44,687.37 1159.46,687.32 1161.49,687.26 1163.52,687.21 1165.54,687.15 1167.57,687.1 1169.6,687.05 1171.62,687 1173.65,686.96 1175.68,686.91 1177.7,686.87 1179.73,686.83 1181.76,686.79 1183.78,686.75 1185.81,686.71 1187.83,686.67 1189.86,686.64 1191.89,686.6 1193.91,686.57 1195.94,686.53 1197.97,686.5 1199.99,686.47 1202.02,686.44 1204.05,686.41 1206.07,686.38 1208.1,686.36 1210.13,686.33 1212.15,686.31 1214.18,686.28 1216.21,686.26 1218.23,686.23 1220.26,686.21 1222.29,686.19 1224.31,686.17 1226.34,686.15 1228.37,686.13 1230.39,686.11 1232.42,686.09 1234.45,686.07 1236.47,686.05 1238.5,686.04" fill="none" stroke="#2f7fc6" stroke-width="3" stroke-linejoin="round"/>
<line x1="225.2" y1="864.5" x2="234.2" y2="864.5" stroke="#505050" stroke-width="2"/>
<line x1="1238.5" y1="864.5" x2="1229.5" y2="864.5" stroke="#505050" stroke-width="2"/>
<line x1="225.2" y1="817.05" x2="234.2" y2="817.05" stroke="#505050" stroke-width="2"/>
<line x1="1238.5" y1="817.05" x2="1229.5" y2="817.05" stroke="#505050" stroke-width="2"/>
<line x1="225.2" y1="769.6" x2="234.2" y2="769.6" stroke="#505050" stroke-width="2"/>
<line x1="1238.5" y1="769.6" x2="1229.5" y2="769.6" stroke="#505050" stroke-width="2"/>
<line x1="225.2" y1="722.15" x2="234.2" y2="722.15" stroke="#505050" stroke-width="2"/>
<line x1="1238.5" y1="722.15" x2="1229.5" y2="722.15" stroke="#505050" stroke-width="2"/>
<line x1="225.2" y1="674.7" x2="234.2" y2="674.7" stroke="#505050" stroke-width="2"/>
<line x1="1238.5" y1="674.7" x2="1229.5" y2="674.7" stroke="#505050" stroke-width="2"/>
<line x1="427.86" y1="640.5" x2="427.86" y2="649.5" stroke="#505050" stroke-width="2"/>
<line x1="427.86" y1="888.8" x2="427.86" y2="879.8" stroke="#505050" stroke-width="2"/>
<line x1="630.52" y1="640.5" x2="630.52" y2="649.5" stroke="#505050" stroke-width="2"/>
<line x1="630.52" y1="888.8" x2="630.52" y2="879.8" stroke="#505050" stroke-width="2"/>
<line x1="833.18" y1="640.5" x2="833.18" y2="649.5" stroke="#505050" stroke-width="2"/>
<line x1="833.18" y1="888.8" x2="833.18" y2="879.8" stroke="#505050" stroke-width="2"/>
<line x1="1035.84" y1="640.5" x2="1035.84" y2="649.5" stroke="#505050" stroke-width="2"/>
<line x1="1035.84" y1="888.8" x2="1035.84" y2="879.8" stroke="#505050" stroke-width="2"/>
<rect x="225.2" y="640.5" width="1013.3" height="248.3" fill="none" stroke="#858585" stroke-width="2.5" stroke-linejoin="round"/>
<text x="211.5" y="685.4" font-family="'Liberation Sans', Arial, sans-serif" font-size="27.5" fill="#3a3a3a" text-anchor="end">4</text>
<text x="211.5" y="733.8" font-family="'Liberation Sans', Arial, sans-serif" font-size="27.5" fill="#3a3a3a" text-anchor="end">3</text>
<text x="211.5" y="781" font-family="'Liberation Sans', Arial, sans-serif" font-size="27.5" fill="#3a3a3a" text-anchor="end">2</text>
<text x="211.5" y="828.3" font-family="'Liberation Sans', Arial, sans-serif" font-size="27.5" fill="#3a3a3a" text-anchor="end">1</text>
<text x="211.5" y="874.3" font-family="'Liberation Sans', Arial, sans-serif" font-size="27.5" fill="#3a3a3a" text-anchor="end">0</text>
<text x="670.3" y="833.8" font-family="'Liberation Sans', Arial, sans-serif" font-size="32" fill="#000" text-anchor="middle" textLength="332.6" lengthAdjust="spacingAndGlyphs" stroke="#000" stroke-width="0.45">Cells votage initilization</text>
<text x="1061.4" y="786.2" font-family="'Liberation Sans', Arial, sans-serif" font-size="32" fill="#000" text-anchor="start" textLength="137.3" lengthAdjust="spacingAndGlyphs" stroke="#000" stroke-width="0.45">Balancing</text>
<text x="1061.3" y="828" font-family="'Liberation Sans', Arial, sans-serif" font-size="32" fill="#000" text-anchor="start" textLength="105.7" lengthAdjust="spacingAndGlyphs" stroke="#000" stroke-width="0.45">process</text>
<line x1="241" y1="857.3" x2="1019.4" y2="857.3" stroke="#ff0000" stroke-width="5.5"/>
<polygon points="228.2,857.3 242,849.55 242,865.05" fill="#ff0000"/>
<polygon points="1032.2,857.3 1018.4,849.55 1018.4,865.05" fill="#ff0000"/>
<line x1="1053.3" y1="857.3" x2="1219.2" y2="857.3" stroke="#ff0000" stroke-width="5.5"/>
<polygon points="1040.5,857.3 1054.3,849.55 1054.3,865.05" fill="#ff0000"/>
<polygon points="1232,857.3 1218.2,849.55 1218.2,865.05" fill="#ff0000"/>
<text x="224" y="929" font-family="'Liberation Sans', Arial, sans-serif" font-size="27.5" fill="#3a3a3a" text-anchor="middle">0</text>
<text x="427.7" y="929" font-family="'Liberation Sans', Arial, sans-serif" font-size="27.5" fill="#3a3a3a" text-anchor="middle">0.05</text>
<text x="628.5" y="929" font-family="'Liberation Sans', Arial, sans-serif" font-size="27.5" fill="#3a3a3a" text-anchor="middle">0.1</text>
<text x="834.2" y="929" font-family="'Liberation Sans', Arial, sans-serif" font-size="27.5" fill="#3a3a3a" text-anchor="middle">0.15</text>
<text x="1035" y="929" font-family="'Liberation Sans', Arial, sans-serif" font-size="27.5" fill="#3a3a3a" text-anchor="middle">0.2</text>
<text x="1238" y="929" font-family="'Liberation Sans', Arial, sans-serif" font-size="27.5" fill="#3a3a3a" text-anchor="middle">0.25</text>
<text x="726" y="966.3" font-family="'Liberation Sans', Arial, sans-serif" font-size="32" fill="#000" text-anchor="middle" textLength="209.4" lengthAdjust="spacingAndGlyphs" stroke="#000" stroke-width="0.45">Time (seconds)</text>
<text transform="translate(135.9,146) rotate(-90)" x="0" y="0" font-family="'Liberation Sans', Arial, sans-serif" font-size="32" fill="#000" stroke="#000" stroke-width="0.45" text-anchor="middle" textLength="193.5" lengthAdjust="spacingAndGlyphs">Control signal</text>
<text transform="translate(177.6,142.6) rotate(-90)" x="0" y="0" font-family="'Liberation Sans', Arial, sans-serif" font-size="32" fill="#000" stroke="#000" stroke-width="0.45" text-anchor="middle" textLength="216" lengthAdjust="spacingAndGlyphs">for charging (V)</text>
<text transform="translate(136.3,471.3) rotate(-90)" x="0" y="0" font-family="'Liberation Sans', Arial, sans-serif" font-size="32" fill="#000" stroke="#000" stroke-width="0.45" text-anchor="middle" textLength="242.6" lengthAdjust="spacingAndGlyphs">Balancing control</text>
<text transform="translate(177.5,466.5) rotate(-90)" x="0" y="0" font-family="'Liberation Sans', Arial, sans-serif" font-size="32" fill="#000" stroke="#000" stroke-width="0.45" text-anchor="middle" textLength="122.5" lengthAdjust="spacingAndGlyphs">pulse (V)</text>
<text transform="translate(171.5,769) rotate(-90)" x="0" y="0" font-family="'Liberation Sans', Arial, sans-serif" font-size="32" fill="#000" stroke="#000" stroke-width="0.45" text-anchor="middle" textLength="223.5" lengthAdjust="spacingAndGlyphs">Cells voltage (V)</text>
<text x="0.8" y="177.8" font-family="'Liberation Serif', 'Times New Roman', serif" font-size="44" fill="#000" text-anchor="start">(a)</text>
<text x="-0.5" y="482" font-family="'Liberation Serif', 'Times New Roman', serif" font-size="44" fill="#000" text-anchor="start">(b)</text>
<text x="0.5" y="809.5" font-family="'Liberation Serif', 'Times New Roman', serif" font-size="44" fill="#000" text-anchor="start">(c)</text>
</svg>
</body></html>
